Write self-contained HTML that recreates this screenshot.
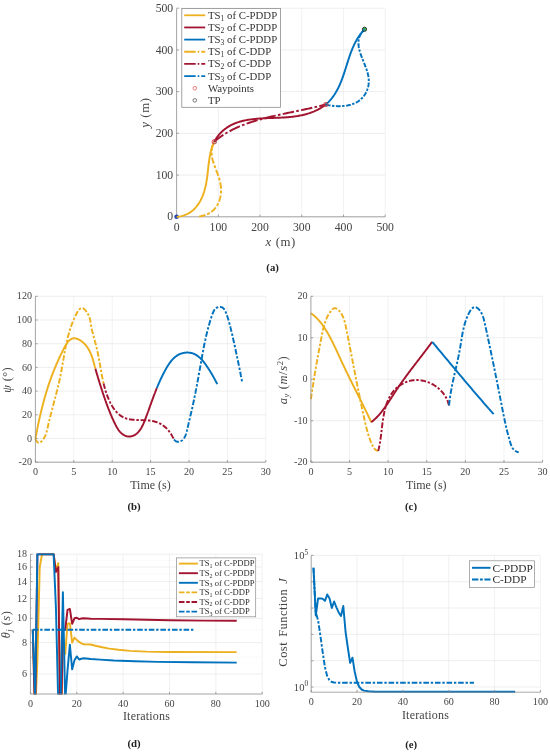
<!DOCTYPE html>
<html><head><meta charset="utf-8"><title>Figure</title>
<style>html,body{margin:0;padding:0;background:#fff}svg{display:block}text{font-family:"Liberation Serif",serif}</style>
</head><body>
<svg width="550" height="752" viewBox="0 0 550 752">
<rect width="550" height="752" fill="#fff"/>
<line x1="176.60" y1="8.50" x2="176.60" y2="216.80" stroke="#e7e7e7" stroke-width="0.6"/>
<line x1="218.32" y1="8.50" x2="218.32" y2="216.80" stroke="#e7e7e7" stroke-width="0.6"/>
<line x1="260.04" y1="8.50" x2="260.04" y2="216.80" stroke="#e7e7e7" stroke-width="0.6"/>
<line x1="301.76" y1="8.50" x2="301.76" y2="216.80" stroke="#e7e7e7" stroke-width="0.6"/>
<line x1="343.48" y1="8.50" x2="343.48" y2="216.80" stroke="#e7e7e7" stroke-width="0.6"/>
<line x1="385.20" y1="8.50" x2="385.20" y2="216.80" stroke="#e7e7e7" stroke-width="0.6"/>
<line x1="176.60" y1="216.80" x2="385.20" y2="216.80" stroke="#e7e7e7" stroke-width="0.7"/>
<line x1="176.60" y1="175.08" x2="385.20" y2="175.08" stroke="#e7e7e7" stroke-width="0.7"/>
<line x1="176.60" y1="133.36" x2="385.20" y2="133.36" stroke="#e7e7e7" stroke-width="0.7"/>
<line x1="176.60" y1="91.64" x2="385.20" y2="91.64" stroke="#e7e7e7" stroke-width="0.7"/>
<line x1="176.60" y1="49.92" x2="385.20" y2="49.92" stroke="#e7e7e7" stroke-width="0.7"/>
<line x1="176.60" y1="8.20" x2="385.20" y2="8.20" stroke="#e7e7e7" stroke-width="0.7"/>
<path d="M176.60 8.50 V216.80 H385.20" fill="none" stroke="#8c8c8c" stroke-width="0.75"/>
<line x1="176.60" y1="216.80" x2="176.60" y2="214.60" stroke="#8c8c8c" stroke-width="0.8"/>
<text x="176.60" y="230.80" font-size="11.7" text-anchor="middle" fill="#444" >0</text>
<line x1="218.32" y1="216.80" x2="218.32" y2="214.60" stroke="#8c8c8c" stroke-width="0.8"/>
<text x="218.32" y="230.80" font-size="11.7" text-anchor="middle" fill="#444" >100</text>
<line x1="260.04" y1="216.80" x2="260.04" y2="214.60" stroke="#8c8c8c" stroke-width="0.8"/>
<text x="260.04" y="230.80" font-size="11.7" text-anchor="middle" fill="#444" >200</text>
<line x1="301.76" y1="216.80" x2="301.76" y2="214.60" stroke="#8c8c8c" stroke-width="0.8"/>
<text x="301.76" y="230.80" font-size="11.7" text-anchor="middle" fill="#444" >300</text>
<line x1="343.48" y1="216.80" x2="343.48" y2="214.60" stroke="#8c8c8c" stroke-width="0.8"/>
<text x="343.48" y="230.80" font-size="11.7" text-anchor="middle" fill="#444" >400</text>
<line x1="385.20" y1="216.80" x2="385.20" y2="214.60" stroke="#8c8c8c" stroke-width="0.8"/>
<text x="385.20" y="230.80" font-size="11.7" text-anchor="middle" fill="#444" >500</text>
<line x1="176.60" y1="216.80" x2="178.80" y2="216.80" stroke="#8c8c8c" stroke-width="0.8"/>
<text x="173.20" y="220.43" font-size="11.7" text-anchor="end" fill="#444" >0</text>
<line x1="176.60" y1="175.08" x2="178.80" y2="175.08" stroke="#8c8c8c" stroke-width="0.8"/>
<text x="173.20" y="178.71" font-size="11.7" text-anchor="end" fill="#444" >100</text>
<line x1="176.60" y1="133.36" x2="178.80" y2="133.36" stroke="#8c8c8c" stroke-width="0.8"/>
<text x="173.20" y="136.99" font-size="11.7" text-anchor="end" fill="#444" >200</text>
<line x1="176.60" y1="91.64" x2="178.80" y2="91.64" stroke="#8c8c8c" stroke-width="0.8"/>
<text x="173.20" y="95.27" font-size="11.7" text-anchor="end" fill="#444" >300</text>
<line x1="176.60" y1="49.92" x2="178.80" y2="49.92" stroke="#8c8c8c" stroke-width="0.8"/>
<text x="173.20" y="53.55" font-size="11.7" text-anchor="end" fill="#444" >400</text>
<line x1="176.60" y1="8.20" x2="178.80" y2="8.20" stroke="#8c8c8c" stroke-width="0.8"/>
<text x="173.20" y="11.83" font-size="11.7" text-anchor="end" fill="#444" >500</text>
<circle cx="176.60" cy="216.80" r="2.3" fill="#2446b0"/>
<path d="M176.73 216.91 L177.89 216.77 L179.02 216.59 L180.13 216.38 L181.21 216.14 L182.26 215.87 L183.28 215.56 L184.27 215.23 L185.24 214.86 L186.18 214.47 L187.09 214.04 L187.98 213.59 L188.85 213.11 L189.69 212.61 L190.50 212.07 L191.29 211.52 L192.06 210.93 L192.80 210.33 L193.52 209.70 L194.21 209.05 L194.89 208.37 L195.54 207.67 L196.17 206.96 L196.78 206.22 L197.37 205.46 L197.94 204.69 L198.48 203.90 L199.01 203.09 L199.52 202.26 L200.01 201.42 L200.48 200.56 L200.93 199.68 L201.37 198.80 L201.79 197.89 L202.19 196.98 L202.57 196.06 L202.94 195.12 L203.29 194.17 L203.62 193.21 L203.94 192.24 L204.25 191.27 L204.54 190.28 L204.81 189.29 L205.08 188.29 L205.33 187.29 L205.56 186.28 L205.79 185.26 L206.00 184.25 L206.20 183.22 L206.38 182.20 L206.56 181.17 L206.73 180.14 L206.88 179.11 L207.03 178.08 L207.18 177.04 L207.31 176.01 L207.44 174.97 L207.57 173.94 L207.69 172.90 L207.80 171.87 L207.92 170.83 L208.03 169.80 L208.14 168.77 L208.26 167.73 L208.37 166.70 L208.49 165.68 L208.60 164.65 L208.73 163.63 L208.85 162.61 L208.98 161.59 L209.12 160.58 L209.26 159.57 L209.42 158.56 L209.58 157.56 L209.75 156.56 L209.93 155.57 L210.12 154.59 L210.32 153.60 L210.54 152.63 L210.77 151.66 L211.01 150.70 L211.27 149.74 L211.55 148.79 L211.84 147.85 L212.15 146.91 L212.48 145.99 L212.83 145.07 L213.20 144.16 L213.59 143.26 L214.00 142.36" fill="none" stroke="#EDB120" stroke-width="1.95" stroke-linejoin="round" />
<path d="M214.18 141.82 L214.73 140.83 L215.31 139.86 L215.89 138.93 L216.50 138.02 L217.12 137.14 L217.75 136.28 L218.40 135.45 L219.06 134.65 L219.74 133.87 L220.44 133.12 L221.14 132.39 L221.86 131.68 L222.59 131.00 L223.34 130.35 L224.10 129.71 L224.87 129.10 L225.65 128.51 L226.45 127.94 L227.25 127.40 L228.07 126.87 L228.89 126.37 L229.73 125.88 L230.58 125.42 L231.43 124.97 L232.30 124.55 L233.18 124.14 L234.06 123.75 L234.95 123.38 L235.85 123.03 L236.76 122.69 L237.67 122.37 L238.59 122.07 L239.52 121.78 L240.46 121.51 L241.40 121.25 L242.35 121.00 L243.31 120.77 L244.27 120.56 L245.24 120.35 L246.21 120.16 L247.19 119.98 L248.17 119.81 L249.16 119.65 L250.15 119.51 L251.15 119.37 L252.15 119.24 L253.15 119.12 L254.16 119.01 L255.17 118.91 L256.19 118.82 L257.21 118.73 L258.23 118.65 L259.25 118.57 L260.28 118.51 L261.31 118.44 L262.34 118.38 L263.37 118.33 L264.41 118.28 L265.44 118.24 L266.48 118.19 L267.51 118.15 L268.55 118.11 L269.59 118.08 L270.62 118.04 L271.66 118.01 L272.70 117.97 L273.74 117.94 L274.77 117.90 L275.81 117.86 L276.84 117.82 L277.87 117.78 L278.90 117.74 L279.93 117.69 L280.96 117.64 L281.98 117.59 L283.01 117.53 L284.03 117.47 L285.05 117.41 L286.07 117.34 L287.08 117.26 L288.10 117.18 L289.11 117.09 L290.12 116.99 L291.12 116.89 L292.13 116.78 L293.13 116.66 L294.12 116.53 L295.12 116.40 L296.11 116.25 L297.10 116.10 L298.09 115.94 L299.07 115.76 L300.05 115.58 L301.03 115.38 L302.00 115.18 L302.97 114.96 L303.94 114.73 L304.90 114.48 L305.86 114.23 L306.81 113.96 L307.76 113.67 L308.71 113.38 L309.65 113.07 L310.59 112.74 L311.52 112.40 L312.45 112.04 L313.38 111.67 L314.30 111.28 L315.21 110.87 L316.13 110.45 L317.03 110.01 L317.93 109.55 L318.83 109.07 L319.72 108.57 L320.61 108.06 L321.49 107.52 L322.37 106.97 L323.24 106.39 L324.10 105.80 L324.96 105.18 L325.82 104.54" fill="none" stroke="#A2142F" stroke-width="1.95" stroke-linejoin="round" />
<path d="M325.82 104.55 L326.61 103.84 L327.38 103.11 L328.13 102.38 L328.86 101.63 L329.57 100.88 L330.26 100.11 L330.93 99.33 L331.58 98.53 L332.21 97.73 L332.82 96.92 L333.42 96.10 L333.99 95.27 L334.56 94.43 L335.10 93.58 L335.63 92.72 L336.15 91.85 L336.65 90.97 L337.13 90.09 L337.61 89.20 L338.07 88.30 L338.52 87.40 L338.95 86.48 L339.38 85.56 L339.79 84.64 L340.19 83.71 L340.59 82.77 L340.97 81.83 L341.35 80.89 L341.72 79.94 L342.08 78.98 L342.43 78.03 L342.78 77.06 L343.12 76.10 L343.45 75.13 L343.78 74.16 L344.11 73.18 L344.43 72.21 L344.75 71.23 L345.06 70.25 L345.38 69.27 L345.69 68.29 L346.00 67.30 L346.30 66.32 L346.61 65.34 L346.92 64.36 L347.23 63.37 L347.54 62.39 L347.85 61.41 L348.17 60.43 L348.48 59.46 L348.80 58.48 L349.13 57.51 L349.46 56.54 L349.79 55.57 L350.13 54.61 L350.47 53.65 L350.82 52.69 L351.18 51.74 L351.55 50.79 L351.92 49.84 L352.30 48.90 L352.70 47.97 L353.10 47.04 L353.51 46.12 L353.93 45.21 L354.36 44.30 L354.81 43.39 L355.26 42.50 L355.73 41.61 L356.21 40.73 L356.71 39.86 L357.22 38.99 L357.75 38.14 L358.29 37.29 L358.84 36.45 L359.42 35.63 L360.01 34.81 L360.61 34.00 L361.24 33.20 L361.88 32.42 L362.55 31.64 L363.23 30.88 L363.93 30.12 L364.65 29.38" fill="none" stroke="#0072BD" stroke-width="1.95" stroke-linejoin="round" />
<path d="M199.09 216.36 L200.27 216.23 L201.42 216.05 L202.53 215.83 L203.61 215.56 L204.65 215.26 L205.66 214.91 L206.64 214.53 L207.59 214.10 L208.50 213.65 L209.38 213.15 L210.22 212.63 L211.03 212.07 L211.82 211.47 L212.56 210.85 L213.28 210.20 L213.96 209.52 L214.61 208.81 L215.23 208.08 L215.82 207.32 L216.37 206.53 L216.89 205.73 L217.39 204.90 L217.85 204.05 L218.27 203.18 L218.67 202.30 L219.04 201.40 L219.37 200.48 L219.68 199.54 L219.95 198.60 L220.19 197.64 L220.40 196.66 L220.58 195.68 L220.73 194.69 L220.86 193.69 L220.95 192.69 L221.01 191.67 L221.04 190.66 L221.04 189.64 L221.01 188.61 L220.95 187.59 L220.86 186.57 L220.74 185.54 L220.60 184.52 L220.42 183.50 L220.22 182.49 L219.99 181.48 L219.73 180.47 L219.46 179.47 L219.16 178.47 L218.85 177.47 L218.52 176.48 L218.18 175.49 L217.82 174.50 L217.46 173.51 L217.09 172.53 L216.72 171.55 L216.34 170.57 L215.97 169.59 L215.59 168.61 L215.22 167.64 L214.85 166.67 L214.50 165.69 L214.15 164.72 L213.82 163.75 L213.50 162.79 L213.20 161.82 L212.91 160.85 L212.65 159.88 L212.41 158.92 L212.20 157.95 L212.02 156.98 L211.86 156.02 L211.73 155.05 L211.64 154.08 L211.59 153.11 L211.58 152.14 L211.60 151.17 L211.67 150.20 L211.78 149.23 L211.94 148.25 L212.15 147.27 L212.41 146.30 L212.72 145.32 L213.09 144.33 L213.51 143.35 L214.00 142.36" fill="none" stroke="#EDB120" stroke-width="1.95" stroke-dasharray="6.5 1.8 3 1.8" stroke-linejoin="round" />
<path d="M214.18 141.82 L214.96 141.15 L215.74 140.50 L216.53 139.85 L217.32 139.22 L218.12 138.60 L218.93 137.99 L219.74 137.40 L220.56 136.81 L221.38 136.23 L222.21 135.67 L223.04 135.11 L223.88 134.57 L224.72 134.03 L225.57 133.51 L226.43 132.99 L227.29 132.48 L228.15 131.99 L229.02 131.50 L229.90 131.02 L230.77 130.55 L231.66 130.09 L232.54 129.64 L233.43 129.19 L234.33 128.76 L235.23 128.33 L236.13 127.91 L237.04 127.50 L237.95 127.10 L238.87 126.70 L239.79 126.31 L240.71 125.93 L241.63 125.55 L242.56 125.19 L243.50 124.82 L244.43 124.47 L245.37 124.12 L246.31 123.78 L247.26 123.44 L248.20 123.11 L249.15 122.79 L250.11 122.47 L251.06 122.16 L252.02 121.85 L252.98 121.54 L253.94 121.25 L254.91 120.95 L255.88 120.66 L256.84 120.38 L257.82 120.10 L258.79 119.83 L259.76 119.55 L260.74 119.29 L261.72 119.02 L262.69 118.76 L263.68 118.51 L264.66 118.25 L265.64 118.00 L266.62 117.75 L267.61 117.51 L268.59 117.27 L269.58 117.03 L270.57 116.79 L271.56 116.55 L272.54 116.32 L273.53 116.09 L274.52 115.86 L275.51 115.63 L276.51 115.41 L277.50 115.19 L278.49 114.96 L279.48 114.74 L280.47 114.53 L281.47 114.31 L282.46 114.09 L283.45 113.88 L284.45 113.66 L285.44 113.45 L286.44 113.24 L287.43 113.03 L288.42 112.82 L289.42 112.61 L290.41 112.40 L291.41 112.19 L292.40 111.98 L293.39 111.78 L294.39 111.57 L295.38 111.36 L296.37 111.16 L297.36 110.95 L298.36 110.74 L299.35 110.53 L300.34 110.33 L301.33 110.12 L302.32 109.91 L303.31 109.70 L304.30 109.49 L305.29 109.28 L306.28 109.07 L307.26 108.86 L308.25 108.65 L309.23 108.43 L310.22 108.22 L311.20 108.00 L312.18 107.78 L313.17 107.56 L314.15 107.34 L315.13 107.12 L316.10 106.90 L317.08 106.67 L318.06 106.44 L319.03 106.21 L320.01 105.98 L320.98 105.75 L321.95 105.51 L322.92 105.27 L323.89 105.03 L324.85 104.79 L325.82 104.54" fill="none" stroke="#A2142F" stroke-width="1.95" stroke-dasharray="11.5 2.3 2.6 2.3" stroke-linejoin="round" />
<path d="M325.82 104.54 L326.71 104.77 L327.63 104.98 L328.58 105.18 L329.54 105.36 L330.51 105.52 L331.51 105.67 L332.52 105.80 L333.54 105.91 L334.58 106.01 L335.62 106.08 L336.68 106.14 L337.74 106.17 L338.80 106.18 L339.87 106.17 L340.94 106.14 L342.01 106.08 L343.08 106.00 L344.15 105.90 L345.21 105.77 L346.26 105.62 L347.31 105.44 L348.35 105.23 L349.37 104.99 L350.39 104.73 L351.39 104.44 L352.37 104.12 L353.33 103.77 L354.28 103.38 L355.20 102.97 L356.11 102.52 L356.98 102.05 L357.84 101.54 L358.66 100.99 L359.46 100.41 L360.22 99.80 L360.96 99.16 L361.67 98.49 L362.34 97.79 L362.99 97.06 L363.60 96.31 L364.18 95.53 L364.73 94.73 L365.25 93.91 L365.73 93.06 L366.18 92.20 L366.60 91.32 L366.98 90.43 L367.33 89.52 L367.64 88.59 L367.91 87.66 L368.15 86.71 L368.36 85.75 L368.52 84.79 L368.65 83.82 L368.74 82.84 L368.79 81.86 L368.80 80.87 L368.77 79.89 L368.71 78.90 L368.61 77.91 L368.47 76.93 L368.30 75.94 L368.10 74.95 L367.87 73.96 L367.62 72.97 L367.34 71.98 L367.04 70.99 L366.72 70.00 L366.39 69.01 L366.04 68.02 L365.67 67.04 L365.29 66.05 L364.91 65.06 L364.52 64.07 L364.12 63.08 L363.72 62.09 L363.32 61.10 L362.92 60.12 L362.53 59.13 L362.14 58.14 L361.76 57.16 L361.38 56.17 L361.03 55.19 L360.68 54.21 L360.35 53.22 L360.04 52.24 L359.75 51.26 L359.49 50.28 L359.25 49.31 L359.03 48.33 L358.85 47.35 L358.70 46.38 L358.58 45.41 L358.49 44.45 L358.45 43.49 L358.44 42.53 L358.48 41.58 L358.56 40.64 L358.69 39.71 L358.86 38.78 L359.09 37.86 L359.37 36.96 L359.71 36.06 L360.10 35.18 L360.56 34.31 L361.07 33.45 L361.65 32.61 L362.30 31.78 L363.01 30.96 L363.80 30.16 L364.65 29.38" fill="none" stroke="#0072BD" stroke-width="1.95" stroke-dasharray="4.8 1.5 2.4 1.5" stroke-linejoin="round" />
<circle cx="214.20" cy="141.80" r="2.1" fill="none" stroke="#e8202a" stroke-width="0.85"/>
<circle cx="215.00" cy="142.10" r="1.7" fill="none" stroke="#777" stroke-width="0.5"/>
<circle cx="325.80" cy="104.50" r="2.1" fill="none" stroke="#e8202a" stroke-width="0.85"/>
<circle cx="326.60" cy="104.80" r="1.7" fill="none" stroke="#777" stroke-width="0.5"/>
<circle cx="364.50" cy="29.30" r="2.1" fill="#3cc044" stroke="#222" stroke-width="0.9"/>
<circle cx="364.10" cy="29.70" r="1.0" fill="#1f78c8"/>
<rect x="181.80" y="8.50" width="98.60" height="98.80" fill="#fff" stroke="#8c8c8c" stroke-width="0.8"/>
<path d="M184.2 15.30 H205.2" fill="none" stroke="#EDB120" stroke-width="1.8" stroke-linejoin="round" />
<text x="208.00" y="18.80" font-size="10.8" text-anchor="start" fill="#333" >TS<tspan font-size="7.5" dy="2">1</tspan><tspan dy="-2"> of C-PDDP</tspan></text>
<path d="M184.2 27.45 H205.2" fill="none" stroke="#A2142F" stroke-width="1.8" stroke-linejoin="round" />
<text x="208.00" y="30.95" font-size="10.8" text-anchor="start" fill="#333" >TS<tspan font-size="7.5" dy="2">2</tspan><tspan dy="-2"> of C-PDDP</tspan></text>
<path d="M184.2 39.60 H205.2" fill="none" stroke="#0072BD" stroke-width="1.8" stroke-linejoin="round" />
<text x="208.00" y="43.10" font-size="10.8" text-anchor="start" fill="#333" >TS<tspan font-size="7.5" dy="2">3</tspan><tspan dy="-2"> of C-PDDP</tspan></text>
<path d="M184.2 51.75 H205.2" fill="none" stroke="#EDB120" stroke-width="1.8" stroke-dasharray="11.5 2 1.6 2" stroke-linejoin="round" />
<text x="208.00" y="55.25" font-size="10.8" text-anchor="start" fill="#333" >TS<tspan font-size="7.5" dy="2">1</tspan><tspan dy="-2"> of C-DDP</tspan></text>
<path d="M184.2 63.90 H205.2" fill="none" stroke="#A2142F" stroke-width="1.8" stroke-dasharray="11.5 2 1.6 2" stroke-linejoin="round" />
<text x="208.00" y="67.40" font-size="10.8" text-anchor="start" fill="#333" >TS<tspan font-size="7.5" dy="2">2</tspan><tspan dy="-2"> of C-DDP</tspan></text>
<path d="M184.2 76.05 H205.2" fill="none" stroke="#0072BD" stroke-width="1.8" stroke-dasharray="11.5 2 1.6 2" stroke-linejoin="round" />
<text x="208.00" y="79.55" font-size="10.8" text-anchor="start" fill="#333" >TS<tspan font-size="7.5" dy="2">3</tspan><tspan dy="-2"> of C-DDP</tspan></text>
<circle cx="194.8" cy="88.20" r="1.8" fill="none" stroke="#e8474f" stroke-width="0.7"/>
<text x="208.00" y="91.70" font-size="10.8" text-anchor="start" fill="#333" >Waypoints</text>
<circle cx="194.8" cy="100.35" r="1.8" fill="none" stroke="#444" stroke-width="0.7"/>
<text x="208.00" y="103.85" font-size="10.8" text-anchor="start" fill="#333" >TP</text>
<text x="280.80" y="245.50" font-size="12.8" text-anchor="middle" fill="#444" letter-spacing="0.6"><tspan font-style="italic">x</tspan> (m)</text>
<text transform="translate(149.20 112.60) rotate(-90)" font-size="12.8" text-anchor="middle" fill="#444" letter-spacing="0.6"><tspan font-style="italic">y</tspan> (m)</text>
<text x="272.60" y="271.40" font-size="10.8" text-anchor="middle" fill="#222" font-weight="bold">(a)</text>
<line x1="35.40" y1="296.30" x2="35.40" y2="462.20" stroke="#e7e7e7" stroke-width="0.6"/>
<line x1="73.80" y1="296.30" x2="73.80" y2="462.20" stroke="#e7e7e7" stroke-width="0.6"/>
<line x1="112.20" y1="296.30" x2="112.20" y2="462.20" stroke="#e7e7e7" stroke-width="0.6"/>
<line x1="150.60" y1="296.30" x2="150.60" y2="462.20" stroke="#e7e7e7" stroke-width="0.6"/>
<line x1="189.00" y1="296.30" x2="189.00" y2="462.20" stroke="#e7e7e7" stroke-width="0.6"/>
<line x1="227.40" y1="296.30" x2="227.40" y2="462.20" stroke="#e7e7e7" stroke-width="0.6"/>
<line x1="265.80" y1="296.30" x2="265.80" y2="462.20" stroke="#e7e7e7" stroke-width="0.6"/>
<line x1="35.40" y1="462.20" x2="265.80" y2="462.20" stroke="#e7e7e7" stroke-width="0.7"/>
<line x1="35.40" y1="438.50" x2="265.80" y2="438.50" stroke="#e7e7e7" stroke-width="0.7"/>
<line x1="35.40" y1="414.80" x2="265.80" y2="414.80" stroke="#e7e7e7" stroke-width="0.7"/>
<line x1="35.40" y1="391.10" x2="265.80" y2="391.10" stroke="#e7e7e7" stroke-width="0.7"/>
<line x1="35.40" y1="367.40" x2="265.80" y2="367.40" stroke="#e7e7e7" stroke-width="0.7"/>
<line x1="35.40" y1="343.70" x2="265.80" y2="343.70" stroke="#e7e7e7" stroke-width="0.7"/>
<line x1="35.40" y1="320.00" x2="265.80" y2="320.00" stroke="#e7e7e7" stroke-width="0.7"/>
<line x1="35.40" y1="296.30" x2="265.80" y2="296.30" stroke="#e7e7e7" stroke-width="0.7"/>
<path d="M35.45 438.55 L35.54 438.08 L35.62 437.60 L35.71 437.13 L35.79 436.66 L35.88 436.18 L35.96 435.71 L36.05 435.23 L36.14 434.76 L36.23 434.28 L36.32 433.80 L36.41 433.32 L36.50 432.84 L36.59 432.36 L36.68 431.87 L36.77 431.39 L36.87 430.91 L36.96 430.42 L37.06 429.94 L37.15 429.45 L37.25 428.96 L37.35 428.47 L37.45 427.99 L37.54 427.50 L37.64 427.01 L37.74 426.52 L37.85 426.03 L37.95 425.53 L38.05 425.04 L38.15 424.55 L38.26 424.06 L38.36 423.56 L38.46 423.07 L38.57 422.58 L38.68 422.08 L38.78 421.59 L38.89 421.09 L39.00 420.60 L39.11 420.10 L39.22 419.60 L39.33 419.11 L39.44 418.61 L39.55 418.11 L39.66 417.62 L39.78 417.12 L39.89 416.62 L40.01 416.12 L40.12 415.63 L40.24 415.13 L40.35 414.63 L40.47 414.13 L40.59 413.63 L40.71 413.14 L40.82 412.64 L40.94 412.14 L41.06 411.64 L41.18 411.15 L41.31 410.65 L41.43 410.15 L41.55 409.65 L41.67 409.16 L41.80 408.66 L41.92 408.16 L42.05 407.66 L42.17 407.17 L42.30 406.67 L42.43 406.18 L42.55 405.68 L42.68 405.19 L42.81 404.69 L42.94 404.20 L43.07 403.70 L43.20 403.21 L43.33 402.72 L43.46 402.22 L43.60 401.73 L43.73 401.24 L43.86 400.75 L44.00 400.26 L44.13 399.77 L44.27 399.28 L44.40 398.79 L44.54 398.30 L44.68 397.82 L44.82 397.33 L44.95 396.85 L45.09 396.36 L45.23 395.88 L45.37 395.39 L45.51 394.91 L45.65 394.43 L45.80 393.95 L45.94 393.47 L46.08 392.99 L46.22 392.51 L46.37 392.03 L46.51 391.55 L46.66 391.08 L46.80 390.60 L46.95 390.13 L47.09 389.66 L47.24 389.19 L47.39 388.72 L47.54 388.25 L47.69 387.78 L47.84 387.31 L47.99 386.85 L48.14 386.38 L48.29 385.92 L48.44 385.45 L48.59 384.99 L48.75 384.53 L48.90 384.07 L49.05 383.61 L49.21 383.15 L49.37 382.69 L49.52 382.23 L49.68 381.77 L49.84 381.31 L50.00 380.85 L50.16 380.40 L50.32 379.94 L50.48 379.48 L50.64 379.03 L50.81 378.57 L50.97 378.12 L51.14 377.67 L51.30 377.21 L51.47 376.76 L51.64 376.30 L51.81 375.85 L51.98 375.40 L52.15 374.94 L52.32 374.49 L52.49 374.04 L52.67 373.58 L52.84 373.13 L53.02 372.68 L53.20 372.22 L53.37 371.77 L53.55 371.31 L53.73 370.86 L53.92 370.41 L54.10 369.95 L54.28 369.50 L54.47 369.04 L54.65 368.59 L54.84 368.13 L55.03 367.67 L55.22 367.22 L55.41 366.76 L55.61 366.30 L55.80 365.84 L55.99 365.38 L56.19 364.92 L56.39 364.46 L56.59 364.00 L56.79 363.54 L56.99 363.08 L57.20 362.61 L57.40 362.15 L57.61 361.69 L57.81 361.22 L58.02 360.75 L58.23 360.29 L58.45 359.82 L58.66 359.35 L58.88 358.88 L59.09 358.40 L59.31 357.93 L59.53 357.46 L59.75 356.98 L59.98 356.51 L60.20 356.03 L60.43 355.55 L60.65 355.07 L60.88 354.59 L61.12 354.11 L61.35 353.62 L61.58 353.14 L61.82 352.65 L62.06 352.16 L62.30 351.67 L62.54 351.18 L62.78 350.68 L63.03 350.19 L63.27 349.69 L63.52 349.20 L63.78 348.70 L64.03 348.21 L64.29 347.72 L64.55 347.23 L64.81 346.75 L65.07 346.27 L65.34 345.80 L65.62 345.34 L65.89 344.88 L66.17 344.43 L66.45 343.99 L66.74 343.56 L67.03 343.14 L67.33 342.73 L67.63 342.33 L67.94 341.95 L68.25 341.58 L68.56 341.23 L68.89 340.89 L69.21 340.57 L69.54 340.27 L69.88 339.98 L70.23 339.71 L70.58 339.47 L70.93 339.24 L71.30 339.04 L71.66 338.85 L72.04 338.69 L72.42 338.56 L72.81 338.45 L73.21 338.36 L73.62 338.30 L74.03 338.27 L74.45 338.27 L74.88 338.29 L75.31 338.35 L75.75 338.42 L76.19 338.53 L76.64 338.65 L77.09 338.80 L77.55 338.97 L78.00 339.16 L78.45 339.37 L78.91 339.59 L79.36 339.83 L79.80 340.09 L80.25 340.36 L80.69 340.64 L81.12 340.94 L81.55 341.24 L81.97 341.56 L82.38 341.88 L82.78 342.21 L83.17 342.54 L83.55 342.89 L83.92 343.24 L84.29 343.59 L84.64 343.95 L84.99 344.32 L85.32 344.69 L85.65 345.07 L85.97 345.45 L86.29 345.84 L86.59 346.23 L86.89 346.63 L87.18 347.04 L87.46 347.45 L87.74 347.86 L88.00 348.28 L88.27 348.70 L88.52 349.13 L88.77 349.56 L89.01 349.99 L89.25 350.43 L89.48 350.87 L89.70 351.32 L89.92 351.77 L90.13 352.22 L90.34 352.68 L90.54 353.14 L90.74 353.60 L90.94 354.07 L91.13 354.54 L91.31 355.01 L91.49 355.48 L91.67 355.96 L91.84 356.44 L92.01 356.92 L92.18 357.40 L92.34 357.88 L92.50 358.37 L92.66 358.86 L92.81 359.35 L92.96 359.84 L93.11 360.33 L93.26 360.82 L93.40 361.32 L93.55 361.81 L93.69 362.31 L93.83 362.80 L93.96 363.30 L94.10 363.80 L94.24 364.29 L94.37 364.79 L94.51 365.29 L94.64 365.79 L94.78 366.28 L94.91 366.78 L95.05 367.27 L95.18 367.77 L95.32 368.26 L95.45 368.76" fill="none" stroke="#EDB120" stroke-width="1.95" stroke-linejoin="round" />
<path d="M95.45 368.76 L95.59 369.25 L95.72 369.74 L95.86 370.23 L96.00 370.72 L96.14 371.21 L96.27 371.70 L96.41 372.19 L96.55 372.67 L96.69 373.16 L96.83 373.65 L96.97 374.13 L97.11 374.62 L97.25 375.10 L97.40 375.58 L97.54 376.06 L97.68 376.54 L97.83 377.03 L97.97 377.51 L98.11 377.99 L98.26 378.46 L98.40 378.94 L98.55 379.42 L98.69 379.90 L98.84 380.37 L98.98 380.85 L99.13 381.33 L99.28 381.80 L99.43 382.27 L99.57 382.75 L99.72 383.22 L99.87 383.70 L100.02 384.17 L100.17 384.64 L100.32 385.11 L100.46 385.58 L100.61 386.05 L100.76 386.52 L100.91 386.99 L101.07 387.46 L101.22 387.93 L101.37 388.40 L101.52 388.87 L101.67 389.34 L101.82 389.81 L101.97 390.28 L102.13 390.74 L102.28 391.21 L102.43 391.68 L102.59 392.14 L102.74 392.61 L102.89 393.08 L103.05 393.54 L103.20 394.01 L103.36 394.48 L103.51 394.94 L103.67 395.41 L103.82 395.87 L103.98 396.34 L104.14 396.80 L104.30 397.27 L104.46 397.73 L104.62 398.20 L104.78 398.66 L104.94 399.12 L105.10 399.59 L105.26 400.05 L105.42 400.52 L105.59 400.98 L105.75 401.45 L105.92 401.91 L106.08 402.37 L106.25 402.84 L106.42 403.30 L106.59 403.77 L106.76 404.23 L106.93 404.70 L107.10 405.16 L107.27 405.62 L107.45 406.09 L107.62 406.55 L107.80 407.02 L107.98 407.48 L108.15 407.95 L108.33 408.41 L108.51 408.88 L108.70 409.34 L108.88 409.81 L109.06 410.27 L109.25 410.74 L109.44 411.21 L109.62 411.67 L109.81 412.14 L110.01 412.61 L110.20 413.07 L110.39 413.54 L110.59 414.01 L110.78 414.48 L110.98 414.94 L111.18 415.41 L111.38 415.88 L111.59 416.35 L111.79 416.82 L112.00 417.29 L112.20 417.76 L112.41 418.23 L112.63 418.70 L112.84 419.17 L113.05 419.64 L113.27 420.11 L113.49 420.59 L113.71 421.06 L113.93 421.53 L114.15 422.01 L114.38 422.48 L114.61 422.96 L114.84 423.43 L115.07 423.91 L115.30 424.38 L115.54 424.85 L115.78 425.32 L116.03 425.79 L116.27 426.26 L116.53 426.72 L116.78 427.18 L117.04 427.63 L117.31 428.08 L117.58 428.52 L117.86 428.96 L118.14 429.39 L118.43 429.82 L118.72 430.23 L119.03 430.64 L119.33 431.04 L119.65 431.43 L119.97 431.81 L120.31 432.18 L120.65 432.54 L120.99 432.89 L121.35 433.22 L121.72 433.54 L122.09 433.85 L122.48 434.15 L122.87 434.43 L123.28 434.70 L123.69 434.96 L124.12 435.19 L124.55 435.41 L124.99 435.62 L125.44 435.80 L125.90 435.97 L126.36 436.12 L126.82 436.25 L127.29 436.35 L127.77 436.44 L128.24 436.50 L128.71 436.55 L129.19 436.56 L129.66 436.56 L130.13 436.52 L130.60 436.47 L131.07 436.39 L131.53 436.28 L131.99 436.16 L132.44 436.02 L132.88 435.86 L133.31 435.68 L133.74 435.49 L134.16 435.28 L134.56 435.06 L134.96 434.83 L135.35 434.58 L135.74 434.32 L136.11 434.05 L136.47 433.76 L136.83 433.46 L137.18 433.16 L137.52 432.84 L137.86 432.51 L138.18 432.17 L138.50 431.82 L138.82 431.45 L139.12 431.08 L139.42 430.71 L139.71 430.32 L140.00 429.92 L140.28 429.52 L140.56 429.10 L140.83 428.68 L141.09 428.25 L141.35 427.82 L141.60 427.38 L141.85 426.93 L142.09 426.48 L142.33 426.02 L142.57 425.56 L142.80 425.09 L143.02 424.62 L143.25 424.14 L143.46 423.66 L143.68 423.17 L143.89 422.68 L144.10 422.19 L144.30 421.70 L144.51 421.21 L144.71 420.71 L144.90 420.21 L145.10 419.71 L145.29 419.21 L145.48 418.71 L145.67 418.21 L145.86 417.70 L146.04 417.20 L146.23 416.70 L146.41 416.20 L146.59 415.71 L146.77 415.21 L146.95 414.71 L147.13 414.22 L147.31 413.73 L147.49 413.24 L147.67 412.75 L147.85 412.26 L148.02 411.77 L148.20 411.29 L148.37 410.80 L148.55 410.32 L148.72 409.83 L148.89 409.35 L149.07 408.87 L149.24 408.39 L149.41 407.91 L149.58 407.44 L149.75 406.96 L149.92 406.49 L150.09 406.01 L150.26 405.54 L150.43 405.07 L150.60 404.59 L150.77 404.12 L150.94 403.65 L151.11 403.19 L151.28 402.72 L151.45 402.25 L151.61 401.79 L151.78 401.32 L151.95 400.86 L152.12 400.39 L152.29 399.93 L152.46 399.47 L152.63 399.00 L152.80 398.54 L152.97 398.08 L153.14 397.62 L153.31 397.17 L153.48 396.71 L153.65 396.25 L153.82 395.79 L153.99 395.34 L154.17 394.88 L154.34 394.42 L154.51 393.97 L154.69 393.52 L154.86 393.06 L155.04 392.61 L155.21 392.15 L155.39 391.70 L155.57 391.25 L155.74 390.80 L155.92 390.35 L156.10 389.89 L156.28 389.44 L156.46 388.99 L156.65 388.54 L156.83 388.09" fill="none" stroke="#A2142F" stroke-width="1.95" stroke-linejoin="round" />
<path d="M156.83 388.09 L157.01 387.64 L157.20 387.19 L157.38 386.74 L157.57 386.29 L157.76 385.84 L157.95 385.40 L158.14 384.95 L158.33 384.50 L158.52 384.05 L158.72 383.60 L158.91 383.15 L159.11 382.70 L159.31 382.26 L159.51 381.81 L159.71 381.36 L159.91 380.91 L160.12 380.46 L160.32 380.01 L160.53 379.56 L160.74 379.11 L160.95 378.67 L161.16 378.22 L161.37 377.77 L161.59 377.32 L161.81 376.87 L162.03 376.42 L162.25 375.97 L162.47 375.52 L162.69 375.07 L162.92 374.61 L163.15 374.16 L163.38 373.71 L163.61 373.26 L163.84 372.81 L164.08 372.35 L164.32 371.90 L164.56 371.45 L164.80 370.99 L165.05 370.54 L165.29 370.08 L165.54 369.63 L165.80 369.17 L166.05 368.72 L166.31 368.27 L166.57 367.82 L166.83 367.37 L167.10 366.92 L167.37 366.47 L167.64 366.03 L167.92 365.59 L168.20 365.15 L168.48 364.71 L168.77 364.28 L169.06 363.85 L169.35 363.43 L169.65 363.01 L169.95 362.59 L170.26 362.18 L170.57 361.78 L170.88 361.38 L171.20 360.98 L171.53 360.59 L171.86 360.21 L172.19 359.83 L172.53 359.46 L172.87 359.09 L173.22 358.74 L173.57 358.39 L173.93 358.05 L174.30 357.71 L174.67 357.39 L175.04 357.07 L175.42 356.76 L175.81 356.46 L176.20 356.17 L176.60 355.89 L177.01 355.61 L177.42 355.35 L177.83 355.10 L178.26 354.86 L178.69 354.63 L179.13 354.41 L179.57 354.20 L180.02 354.01 L180.48 353.82 L180.94 353.65 L181.41 353.49 L181.89 353.34 L182.37 353.21 L182.86 353.08 L183.35 352.97 L183.85 352.88 L184.35 352.79 L184.85 352.72 L185.36 352.66 L185.87 352.62 L186.37 352.59 L186.88 352.57 L187.39 352.57 L187.90 352.58 L188.40 352.60 L188.91 352.63 L189.41 352.69 L189.90 352.75 L190.40 352.83 L190.89 352.92 L191.37 353.03 L191.85 353.15 L192.32 353.28 L192.79 353.43 L193.25 353.60 L193.71 353.77 L194.16 353.96 L194.60 354.17 L195.04 354.38 L195.47 354.61 L195.89 354.85 L196.31 355.10 L196.73 355.36 L197.14 355.63 L197.54 355.91 L197.94 356.20 L198.34 356.51 L198.73 356.82 L199.11 357.14 L199.49 357.46 L199.86 357.80 L200.23 358.14 L200.60 358.49 L200.96 358.85 L201.31 359.22 L201.67 359.59 L202.01 359.97 L202.36 360.35 L202.70 360.74 L203.03 361.13 L203.36 361.53 L203.69 361.93 L204.01 362.34 L204.33 362.75 L204.65 363.16 L204.96 363.58 L205.27 364.00 L205.57 364.42 L205.87 364.84 L206.17 365.26 L206.47 365.69 L206.76 366.11 L207.05 366.54 L207.33 366.97 L207.62 367.39 L207.90 367.82 L208.17 368.24 L208.45 368.67 L208.72 369.09 L208.99 369.51 L209.26 369.93 L209.52 370.35 L209.78 370.77 L210.04 371.19 L210.30 371.60 L210.56 372.02 L210.81 372.44 L211.07 372.85 L211.32 373.27 L211.57 373.69 L211.81 374.11 L212.06 374.52 L212.31 374.94 L212.55 375.36 L212.79 375.79 L213.03 376.21 L213.27 376.63 L213.51 377.06 L213.75 377.48 L213.99 377.91 L214.22 378.34 L214.46 378.78 L214.69 379.21 L214.93 379.65 L215.16 380.09 L215.40 380.53 L215.63 380.97 L215.87 381.42 L216.10 381.87 L216.33 382.33 L216.57 382.79 L216.80 383.25 L217.04 383.71 L217.27 384.18" fill="none" stroke="#0072BD" stroke-width="1.95" stroke-linejoin="round" />
<path d="M35.45 438.55 L35.82 439.55 L36.20 440.39 L36.59 441.10 L36.98 441.67 L37.38 442.11 L37.78 442.43 L38.19 442.65 L38.59 442.77 L38.99 442.80 L39.39 442.74 L39.79 442.62 L40.18 442.43 L40.57 442.18 L40.95 441.89 L41.32 441.56 L41.67 441.21 L42.02 440.83 L42.35 440.45 L42.67 440.06 L42.97 439.66 L43.26 439.25 L43.54 438.84 L43.81 438.42 L44.06 438.00 L44.30 437.57 L44.53 437.14 L44.76 436.70 L44.97 436.26 L45.17 435.81 L45.36 435.36 L45.55 434.91 L45.73 434.45 L45.90 433.98 L46.06 433.52 L46.21 433.05 L46.36 432.58 L46.51 432.10 L46.65 431.62 L46.78 431.14 L46.91 430.66 L47.03 430.17 L47.15 429.69 L47.27 429.20 L47.39 428.71 L47.50 428.22 L47.61 427.73 L47.72 427.24 L47.83 426.74 L47.94 426.25 L48.05 425.76 L48.16 425.27 L48.28 424.77 L48.39 424.28 L48.50 423.79 L48.61 423.30 L48.73 422.81 L48.84 422.32 L48.96 421.83 L49.08 421.34 L49.19 420.85 L49.31 420.36 L49.43 419.87 L49.55 419.38 L49.67 418.89 L49.79 418.40 L49.91 417.91 L50.03 417.42 L50.15 416.93 L50.27 416.44 L50.40 415.95 L50.52 415.47 L50.64 414.98 L50.77 414.49 L50.89 414.00 L51.02 413.52 L51.14 413.03 L51.27 412.54 L51.39 412.06 L51.52 411.57 L51.65 411.08 L51.77 410.60 L51.90 410.11 L52.03 409.62 L52.16 409.14 L52.28 408.65 L52.41 408.17 L52.54 407.68 L52.67 407.20 L52.80 406.71 L52.93 406.22 L53.06 405.74 L53.18 405.25 L53.31 404.77 L53.44 404.28 L53.57 403.80 L53.70 403.31 L53.83 402.83 L53.96 402.34 L54.09 401.86 L54.22 401.37 L54.34 400.89 L54.47 400.41 L54.60 399.92 L54.73 399.44 L54.86 398.95 L54.99 398.47 L55.11 397.98 L55.24 397.50 L55.37 397.01 L55.49 396.53 L55.62 396.04 L55.75 395.56 L55.87 395.07 L56.00 394.59 L56.13 394.11 L56.25 393.62 L56.38 393.14 L56.50 392.65 L56.62 392.17 L56.75 391.68 L56.87 391.20 L56.99 390.71 L57.12 390.23 L57.24 389.74 L57.36 389.26 L57.48 388.77 L57.60 388.29 L57.72 387.80 L57.84 387.32 L57.95 386.83 L58.07 386.34 L58.19 385.86 L58.31 385.37 L58.42 384.89 L58.54 384.40 L58.65 383.91 L58.76 383.43 L58.87 382.94 L58.99 382.45 L59.10 381.97 L59.21 381.48 L59.32 380.99 L59.43 380.51 L59.53 380.02 L59.64 379.53 L59.74 379.04 L59.85 378.55 L59.95 378.07 L60.06 377.58 L60.16 377.09 L60.26 376.60 L60.36 376.11 L60.46 375.62 L60.56 375.13 L60.65 374.64 L60.75 374.15 L60.84 373.66 L60.94 373.17 L61.03 372.68 L61.12 372.19 L61.22 371.70 L61.31 371.21 L61.40 370.72 L61.49 370.23 L61.58 369.74 L61.67 369.25 L61.76 368.76 L61.85 368.26 L61.93 367.77 L62.02 367.28 L62.11 366.79 L62.19 366.30 L62.28 365.81 L62.37 365.31 L62.45 364.82 L62.54 364.33 L62.62 363.84 L62.71 363.34 L62.79 362.85 L62.88 362.36 L62.96 361.87 L63.05 361.38 L63.13 360.88 L63.22 360.39 L63.30 359.90 L63.38 359.41 L63.47 358.91 L63.55 358.42 L63.64 357.93 L63.73 357.44 L63.81 356.94 L63.90 356.45 L63.98 355.96 L64.07 355.47 L64.16 354.98 L64.25 354.48 L64.33 353.99 L64.42 353.50 L64.51 353.01 L64.60 352.52 L64.69 352.02 L64.78 351.53 L64.87 351.04 L64.96 350.55 L65.06 350.06 L65.15 349.57 L65.24 349.07 L65.34 348.58 L65.44 348.09 L65.53 347.60 L65.63 347.11 L65.73 346.62 L65.83 346.13 L65.93 345.64 L66.03 345.15 L66.13 344.66 L66.24 344.17 L66.34 343.68 L66.45 343.19 L66.55 342.70 L66.66 342.21 L66.77 341.72 L66.88 341.24 L66.99 340.75 L67.11 340.26 L67.22 339.77 L67.34 339.28 L67.46 338.80 L67.58 338.31 L67.70 337.82 L67.82 337.34 L67.94 336.85 L68.07 336.36 L68.19 335.88 L68.32 335.39 L68.45 334.91 L68.59 334.42 L68.72 333.94 L68.86 333.45 L68.99 332.97 L69.13 332.48 L69.27 332.00 L69.42 331.52 L69.56 331.03 L69.71 330.55 L69.86 330.07 L70.01 329.59 L70.16 329.11 L70.32 328.62 L70.48 328.14 L70.64 327.66 L70.80 327.18 L70.96 326.70 L71.13 326.22 L71.30 325.75 L71.47 325.27 L71.64 324.79 L71.82 324.31 L72.00 323.83 L72.18 323.36 L72.36 322.88 L72.54 322.40 L72.73 321.93 L72.92 321.45 L73.12 320.98 L73.31 320.51 L73.51 320.03 L73.71 319.56 L73.92 319.09 L74.13 318.61 L74.34 318.14 L74.55 317.67 L74.77 317.20 L74.98 316.73 L75.21 316.26 L75.43 315.79 L75.66 315.32 L75.89 314.85 L76.12 314.38 L76.36 313.92 L76.60 313.45 L76.84 313.00 L77.09 312.54 L77.34 312.10 L77.60 311.67 L77.86 311.26 L78.12 310.86 L78.39 310.47 L78.67 310.11 L78.95 309.77 L79.23 309.46 L79.52 309.17 L79.82 308.91 L80.12 308.68 L80.43 308.49 L80.74 308.33 L81.06 308.21 L81.39 308.13 L81.72 308.09 L82.06 308.09 L82.41 308.14 L82.77 308.24 L83.13 308.39 L83.50 308.60 L83.88 308.85 L84.27 309.16 L84.66 309.52 L85.05 309.92 L85.44 310.35 L85.83 310.82 L86.21 311.31 L86.58 311.82 L86.94 312.35 L87.29 312.89 L87.62 313.44 L87.93 313.99 L88.22 314.54 L88.49 315.08 L88.74 315.61 L88.96 316.14 L89.17 316.65 L89.36 317.17 L89.53 317.67 L89.69 318.17 L89.83 318.66 L89.96 319.15 L90.08 319.64 L90.18 320.12 L90.28 320.60 L90.37 321.07 L90.45 321.54 L90.53 322.01 L90.61 322.48 L90.68 322.95 L90.75 323.41 L90.82 323.88 L90.89 324.34 L90.96 324.81 L91.04 325.28 L91.12 325.74 L91.21 326.21 L91.29 326.68 L91.38 327.15 L91.48 327.62 L91.57 328.09 L91.67 328.56 L91.78 329.03 L91.88 329.51 L91.99 329.98 L92.10 330.45 L92.21 330.93 L92.32 331.40 L92.44 331.88 L92.55 332.36 L92.67 332.83 L92.80 333.31 L92.92 333.79 L93.04 334.27 L93.17 334.75 L93.29 335.23 L93.42 335.71 L93.55 336.19 L93.68 336.67 L93.81 337.15 L93.94 337.64 L94.07 338.12 L94.21 338.60 L94.34 339.09 L94.47 339.57 L94.61 340.06 L94.74 340.54 L94.87 341.03 L95.00 341.52 L95.14 342.00 L95.27 342.49 L95.40 342.98 L95.53 343.47 L95.66 343.96 L95.79 344.44 L95.92 344.93 L96.04 345.42 L96.17 345.91 L96.29 346.40 L96.42 346.89 L96.54 347.39 L96.66 347.88 L96.78 348.37 L96.89 348.86 L97.01 349.35 L97.12 349.84 L97.23 350.34 L97.34 350.83 L97.45 351.32 L97.56 351.82 L97.66 352.31 L97.77 352.80 L97.87 353.30 L97.97 353.79 L98.07 354.29 L98.17 354.78 L98.27 355.28 L98.36 355.77 L98.46 356.27 L98.55 356.76 L98.65 357.26 L98.74 357.75 L98.83 358.25 L98.92 358.74 L99.01 359.24 L99.10 359.74 L99.19 360.23 L99.28 360.73 L99.37 361.22 L99.46 361.72 L99.54 362.21 L99.63 362.71 L99.72 363.21 L99.80 363.70 L99.89 364.20 L99.97 364.69 L100.06 365.19 L100.15 365.68 L100.23 366.18 L100.32 366.68 L100.40 367.17 L100.49 367.67 L100.57 368.16 L100.66 368.66 L100.75 369.15 L100.83 369.65 L100.92 370.14 L101.01 370.64 L101.09 371.13 L101.18 371.62 L101.27 372.12 L101.36 372.61 L101.45 373.11 L101.54 373.60 L101.63 374.09 L101.72 374.58 L101.82 375.08 L101.91 375.57 L102.01 376.06 L102.10 376.55 L102.20 377.04 L102.30 377.54 L102.40 378.03 L102.50 378.52 L102.60 379.01 L102.70 379.50 L102.81 379.99 L102.91 380.47 L103.02 380.96 L103.13 381.45 L103.24 381.94 L103.35 382.43 L103.46 382.91 L103.58 383.40" fill="none" stroke="#EDB120" stroke-width="1.95" stroke-dasharray="5.6 1.8 2.4 1.8" stroke-linejoin="round" />
<path d="M103.58 383.40 L103.70 383.89 L103.82 384.37 L103.94 384.86 L104.06 385.34 L104.18 385.83 L104.31 386.31 L104.44 386.79 L104.57 387.28 L104.70 387.76 L104.84 388.24 L104.97 388.72 L105.11 389.20 L105.25 389.68 L105.40 390.16 L105.54 390.64 L105.69 391.12 L105.85 391.59 L106.00 392.07 L106.16 392.55 L106.32 393.02 L106.48 393.50 L106.64 393.97 L106.81 394.45 L106.98 394.92 L107.16 395.39 L107.33 395.86 L107.51 396.33 L107.69 396.80 L107.88 397.27 L108.07 397.74 L108.26 398.21 L108.46 398.68 L108.66 399.14 L108.86 399.61 L109.06 400.07 L109.27 400.53 L109.49 400.99 L109.70 401.45 L109.92 401.91 L110.15 402.36 L110.37 402.82 L110.60 403.27 L110.84 403.71 L111.08 404.16 L111.32 404.60 L111.56 405.04 L111.82 405.47 L112.07 405.91 L112.33 406.33 L112.59 406.76 L112.86 407.18 L113.13 407.59 L113.40 408.01 L113.68 408.41 L113.97 408.82 L114.25 409.22 L114.55 409.61 L114.84 410.00 L115.14 410.38 L115.45 410.76 L115.76 411.13 L116.08 411.49 L116.40 411.85 L116.72 412.21 L117.05 412.55 L117.38 412.90 L117.72 413.23 L118.07 413.56 L118.42 413.88 L118.77 414.19 L119.13 414.50 L119.50 414.79 L119.87 415.09 L120.24 415.37 L120.62 415.64 L121.01 415.91 L121.40 416.17 L121.79 416.42 L122.19 416.66 L122.60 416.89 L123.01 417.11 L123.43 417.33 L123.85 417.53 L124.28 417.73 L124.72 417.91 L125.16 418.09 L125.61 418.26 L126.06 418.41 L126.52 418.56 L126.98 418.70 L127.45 418.82 L127.92 418.94 L128.40 419.05 L128.89 419.16 L129.37 419.25 L129.86 419.34 L130.36 419.42 L130.86 419.49 L131.36 419.56 L131.87 419.62 L132.38 419.68 L132.89 419.73 L133.41 419.78 L133.93 419.82 L134.45 419.86 L134.98 419.89 L135.50 419.92 L136.03 419.95 L136.56 419.97 L137.09 419.99 L137.62 420.01 L138.16 420.03 L138.69 420.04 L139.23 420.06 L139.77 420.07 L140.30 420.08 L140.84 420.09 L141.38 420.11 L141.92 420.12 L142.45 420.13 L142.99 420.15 L143.53 420.16 L144.06 420.18 L144.60 420.20 L145.13 420.22 L145.66 420.25 L146.19 420.28 L146.72 420.31 L147.25 420.35 L147.77 420.39 L148.29 420.43 L148.81 420.48 L149.33 420.53 L149.84 420.59 L150.35 420.66 L150.86 420.73 L151.36 420.81 L151.86 420.90 L152.36 420.99 L152.85 421.09 L153.34 421.20 L153.82 421.31 L154.30 421.43 L154.78 421.56 L155.25 421.70 L155.72 421.84 L156.18 422.00 L156.64 422.16 L157.10 422.32 L157.55 422.50 L157.99 422.68 L158.44 422.87 L158.87 423.07 L159.31 423.27 L159.74 423.49 L160.16 423.71 L160.59 423.93 L161.00 424.17 L161.41 424.41 L161.82 424.66 L162.23 424.92 L162.63 425.18 L163.02 425.46 L163.41 425.74 L163.80 426.02 L164.18 426.32 L164.56 426.62 L164.93 426.93 L165.30 427.25 L165.66 427.57 L166.02 427.91 L166.38 428.25 L166.73 428.59 L167.07 428.95 L167.41 429.31 L167.75 429.68 L168.08 430.06 L168.41 430.45 L168.73 430.84 L169.05 431.24 L169.36 431.65 L169.67 432.06 L169.98 432.49 L170.27 432.92 L170.57 433.35 L170.86 433.80 L171.14 434.25 L171.42 434.71 L171.70 435.18 L171.97 435.66 L172.24 436.14 L172.50 436.62 L172.76 437.11 L173.03 437.59 L173.30 438.06 L173.57 438.52 L173.84 438.96 L174.13 439.39" fill="none" stroke="#A2142F" stroke-width="1.95" stroke-dasharray="5.6 1.8 2.4 1.8" stroke-linejoin="round" />
<path d="M174.13 439.39 L174.42 439.79 L174.73 440.16 L175.05 440.50 L175.38 440.81 L175.73 441.08 L176.10 441.31 L176.49 441.49 L176.90 441.62 L177.32 441.71 L177.77 441.75 L178.22 441.76 L178.67 441.72 L179.14 441.64 L179.60 441.53 L180.05 441.39 L180.50 441.21 L180.94 441.01 L181.36 440.78 L181.76 440.53 L182.14 440.25 L182.50 439.96 L182.85 439.64 L183.17 439.30 L183.48 438.95 L183.77 438.58 L184.04 438.19 L184.30 437.79 L184.55 437.37 L184.78 436.94 L185.00 436.49 L185.21 436.04 L185.40 435.57 L185.59 435.09 L185.77 434.61 L185.93 434.12 L186.09 433.62 L186.24 433.11 L186.39 432.60 L186.53 432.08 L186.67 431.57 L186.80 431.05 L186.93 430.52 L187.05 430.00 L187.18 429.48 L187.30 428.96 L187.42 428.44 L187.54 427.93 L187.67 427.42 L187.79 426.91 L187.91 426.40 L188.03 425.89 L188.15 425.38 L188.27 424.88 L188.39 424.38 L188.51 423.88 L188.63 423.38 L188.75 422.88 L188.86 422.39 L188.98 421.89 L189.10 421.40 L189.22 420.91 L189.33 420.42 L189.45 419.93 L189.56 419.44 L189.68 418.96 L189.79 418.47 L189.91 417.99 L190.02 417.50 L190.14 417.02 L190.25 416.54 L190.36 416.06 L190.48 415.58 L190.59 415.10 L190.70 414.62 L190.81 414.14 L190.93 413.66 L191.04 413.18 L191.15 412.70 L191.26 412.23 L191.37 411.75 L191.48 411.27 L191.59 410.80 L191.70 410.32 L191.80 409.84 L191.91 409.37 L192.02 408.89 L192.13 408.41 L192.24 407.93 L192.34 407.46 L192.45 406.98 L192.55 406.50 L192.66 406.02 L192.77 405.54 L192.87 405.06 L192.98 404.58 L193.08 404.10 L193.18 403.62 L193.29 403.13 L193.39 402.65 L193.49 402.17 L193.60 401.68 L193.70 401.20 L193.80 400.71 L193.90 400.23 L194.01 399.74 L194.11 399.25 L194.21 398.77 L194.31 398.28 L194.41 397.79 L194.51 397.30 L194.61 396.81 L194.71 396.32 L194.81 395.83 L194.91 395.34 L195.01 394.85 L195.10 394.36 L195.20 393.87 L195.30 393.38 L195.40 392.89 L195.49 392.39 L195.59 391.90 L195.69 391.41 L195.78 390.92 L195.88 390.42 L195.98 389.93 L196.07 389.43 L196.17 388.94 L196.26 388.44 L196.36 387.95 L196.45 387.45 L196.55 386.96 L196.64 386.46 L196.74 385.97 L196.83 385.47 L196.92 384.98 L197.02 384.48 L197.11 383.98 L197.20 383.49 L197.30 382.99 L197.39 382.49 L197.48 382.00 L197.57 381.50 L197.67 381.00 L197.76 380.50 L197.85 380.01 L197.94 379.51 L198.03 379.01 L198.12 378.51 L198.22 378.02 L198.31 377.52 L198.40 377.02 L198.49 376.52 L198.58 376.03 L198.67 375.53 L198.76 375.03 L198.85 374.54 L198.94 374.04 L199.03 373.54 L199.12 373.04 L199.21 372.55 L199.30 372.05 L199.39 371.55 L199.47 371.06 L199.56 370.56 L199.65 370.06 L199.74 369.57 L199.83 369.07 L199.92 368.58 L200.01 368.08 L200.09 367.58 L200.18 367.09 L200.27 366.59 L200.36 366.10 L200.45 365.60 L200.53 365.11 L200.62 364.62 L200.71 364.12 L200.80 363.63 L200.88 363.14 L200.97 362.64 L201.06 362.15 L201.15 361.66 L201.23 361.17 L201.32 360.67 L201.41 360.18 L201.49 359.69 L201.58 359.20 L201.67 358.71 L201.76 358.22 L201.84 357.73 L201.93 357.24 L202.02 356.75 L202.11 356.26 L202.20 355.77 L202.28 355.28 L202.37 354.79 L202.46 354.31 L202.55 353.82 L202.64 353.33 L202.73 352.84 L202.82 352.35 L202.91 351.87 L203.00 351.38 L203.09 350.89 L203.18 350.41 L203.27 349.92 L203.37 349.43 L203.46 348.95 L203.55 348.46 L203.65 347.97 L203.74 347.49 L203.83 347.00 L203.93 346.51 L204.02 346.03 L204.12 345.54 L204.22 345.06 L204.31 344.57 L204.41 344.09 L204.51 343.60 L204.61 343.12 L204.71 342.63 L204.81 342.14 L204.91 341.66 L205.02 341.17 L205.12 340.69 L205.22 340.20 L205.33 339.72 L205.43 339.23 L205.54 338.75 L205.65 338.26 L205.75 337.78 L205.86 337.29 L205.97 336.81 L206.08 336.32 L206.19 335.84 L206.31 335.35 L206.42 334.87 L206.54 334.38 L206.65 333.89 L206.77 333.41 L206.89 332.92 L207.00 332.44 L207.12 331.95 L207.25 331.47 L207.37 330.98 L207.49 330.49 L207.62 330.01 L207.74 329.52 L207.87 329.03 L208.00 328.55 L208.13 328.06 L208.26 327.57 L208.39 327.09 L208.52 326.60 L208.66 326.11 L208.79 325.62 L208.93 325.13 L209.07 324.65 L209.21 324.16 L209.35 323.67 L209.49 323.18 L209.64 322.69 L209.79 322.20 L209.93 321.71 L210.08 321.22 L210.23 320.73 L210.38 320.24 L210.54 319.75 L210.69 319.26 L210.85 318.77 L211.01 318.28 L211.17 317.79 L211.33 317.29 L211.50 316.80 L211.66 316.31 L211.83 315.82 L212.00 315.32 L212.17 314.83 L212.34 314.34 L212.52 313.85 L212.70 313.36 L212.89 312.88 L213.09 312.41 L213.29 311.95 L213.51 311.50 L213.74 311.06 L213.98 310.63 L214.23 310.22 L214.49 309.83 L214.78 309.45 L215.08 309.10 L215.39 308.76 L215.73 308.45 L216.09 308.17 L216.47 307.91 L216.87 307.67 L217.29 307.47 L217.74 307.30 L218.21 307.16 L218.70 307.05 L219.19 306.99 L219.69 306.95 L220.19 306.96 L220.68 307.01 L221.17 307.09 L221.64 307.23 L222.10 307.40 L222.53 307.63 L222.93 307.90 L223.30 308.21 L223.65 308.57 L223.98 308.96 L224.28 309.38 L224.56 309.82 L224.83 310.28 L225.08 310.76 L225.31 311.24 L225.54 311.73 L225.75 312.21 L225.96 312.70 L226.16 313.18 L226.36 313.66 L226.54 314.14 L226.72 314.61 L226.89 315.09 L227.06 315.57 L227.22 316.04 L227.38 316.52 L227.54 316.99 L227.69 317.47 L227.84 317.94 L227.98 318.41 L228.12 318.89 L228.27 319.36 L228.41 319.84 L228.55 320.32 L228.68 320.79 L228.82 321.27 L228.96 321.75 L229.09 322.23 L229.22 322.71 L229.35 323.19 L229.49 323.67 L229.61 324.15 L229.74 324.63 L229.87 325.11 L230.00 325.59 L230.12 326.08 L230.25 326.56 L230.37 327.04 L230.49 327.53 L230.62 328.01 L230.74 328.50 L230.86 328.98 L230.98 329.47 L231.10 329.95 L231.21 330.44 L231.33 330.92 L231.45 331.41 L231.56 331.90 L231.68 332.39 L231.79 332.87 L231.91 333.36 L232.02 333.85 L232.14 334.34 L232.25 334.82 L232.36 335.31 L232.47 335.80 L232.58 336.29 L232.69 336.78 L232.81 337.27 L232.92 337.76 L233.03 338.25 L233.14 338.74 L233.24 339.22 L233.35 339.71 L233.46 340.20 L233.57 340.69 L233.68 341.18 L233.79 341.67 L233.90 342.16 L234.01 342.65 L234.11 343.14 L234.22 343.63 L234.33 344.12 L234.44 344.61 L234.55 345.10 L234.65 345.59 L234.76 346.07 L234.87 346.56 L234.98 347.05 L235.08 347.54 L235.19 348.03 L235.30 348.52 L235.40 349.01 L235.51 349.50 L235.61 349.99 L235.72 350.48 L235.83 350.97 L235.93 351.46 L236.04 351.95 L236.14 352.44 L236.25 352.93 L236.35 353.41 L236.46 353.90 L236.56 354.39 L236.67 354.88 L236.77 355.37 L236.88 355.86 L236.98 356.35 L237.08 356.84 L237.19 357.33 L237.29 357.82 L237.39 358.31 L237.50 358.80 L237.60 359.29 L237.70 359.78 L237.80 360.27 L237.91 360.76 L238.01 361.25 L238.11 361.74 L238.21 362.23 L238.31 362.72 L238.41 363.21 L238.52 363.70 L238.62 364.19 L238.72 364.68 L238.82 365.17 L238.92 365.66 L239.02 366.15 L239.12 366.64 L239.22 367.13 L239.32 367.62 L239.41 368.11 L239.51 368.60 L239.61 369.09 L239.71 369.58 L239.81 370.07 L239.91 370.56 L240.00 371.06 L240.10 371.55 L240.20 372.04 L240.30 372.53 L240.39 373.02 L240.49 373.51 L240.59 374.00 L240.68 374.49 L240.78 374.98 L240.87 375.48 L240.97 375.97 L241.06 376.46 L241.16 376.95 L241.25 377.44 L241.35 377.93 L241.44 378.43 L241.53 378.92 L241.63 379.41 L241.72 379.90 L241.81 380.39 L241.91 380.89 L242.00 381.38 L242.09 381.87 L242.18 382.36" fill="none" stroke="#0072BD" stroke-width="1.95" stroke-dasharray="5.6 1.8 2.4 1.8" stroke-linejoin="round" />
<path d="M35.40 296.30 V462.20 H265.80" fill="none" stroke="#8c8c8c" stroke-width="0.75"/>
<line x1="35.40" y1="462.20" x2="35.40" y2="460.00" stroke="#8c8c8c" stroke-width="0.8"/>
<text x="35.40" y="475.00" font-size="10.1" text-anchor="middle" fill="#444" >0</text>
<line x1="73.80" y1="462.20" x2="73.80" y2="460.00" stroke="#8c8c8c" stroke-width="0.8"/>
<text x="73.80" y="475.00" font-size="10.1" text-anchor="middle" fill="#444" >5</text>
<line x1="112.20" y1="462.20" x2="112.20" y2="460.00" stroke="#8c8c8c" stroke-width="0.8"/>
<text x="112.20" y="475.00" font-size="10.1" text-anchor="middle" fill="#444" >10</text>
<line x1="150.60" y1="462.20" x2="150.60" y2="460.00" stroke="#8c8c8c" stroke-width="0.8"/>
<text x="150.60" y="475.00" font-size="10.1" text-anchor="middle" fill="#444" >15</text>
<line x1="189.00" y1="462.20" x2="189.00" y2="460.00" stroke="#8c8c8c" stroke-width="0.8"/>
<text x="189.00" y="475.00" font-size="10.1" text-anchor="middle" fill="#444" >20</text>
<line x1="227.40" y1="462.20" x2="227.40" y2="460.00" stroke="#8c8c8c" stroke-width="0.8"/>
<text x="227.40" y="475.00" font-size="10.1" text-anchor="middle" fill="#444" >25</text>
<line x1="265.80" y1="462.20" x2="265.80" y2="460.00" stroke="#8c8c8c" stroke-width="0.8"/>
<text x="265.80" y="475.00" font-size="10.1" text-anchor="middle" fill="#444" >30</text>
<line x1="35.40" y1="462.20" x2="37.60" y2="462.20" stroke="#8c8c8c" stroke-width="0.8"/>
<text x="32.00" y="465.33" font-size="10.1" text-anchor="end" fill="#444" >-20</text>
<line x1="35.40" y1="438.50" x2="37.60" y2="438.50" stroke="#8c8c8c" stroke-width="0.8"/>
<text x="32.00" y="441.63" font-size="10.1" text-anchor="end" fill="#444" >0</text>
<line x1="35.40" y1="414.80" x2="37.60" y2="414.80" stroke="#8c8c8c" stroke-width="0.8"/>
<text x="32.00" y="417.93" font-size="10.1" text-anchor="end" fill="#444" >20</text>
<line x1="35.40" y1="391.10" x2="37.60" y2="391.10" stroke="#8c8c8c" stroke-width="0.8"/>
<text x="32.00" y="394.23" font-size="10.1" text-anchor="end" fill="#444" >40</text>
<line x1="35.40" y1="367.40" x2="37.60" y2="367.40" stroke="#8c8c8c" stroke-width="0.8"/>
<text x="32.00" y="370.53" font-size="10.1" text-anchor="end" fill="#444" >60</text>
<line x1="35.40" y1="343.70" x2="37.60" y2="343.70" stroke="#8c8c8c" stroke-width="0.8"/>
<text x="32.00" y="346.83" font-size="10.1" text-anchor="end" fill="#444" >80</text>
<line x1="35.40" y1="320.00" x2="37.60" y2="320.00" stroke="#8c8c8c" stroke-width="0.8"/>
<text x="32.00" y="323.13" font-size="10.1" text-anchor="end" fill="#444" >100</text>
<line x1="35.40" y1="296.30" x2="37.60" y2="296.30" stroke="#8c8c8c" stroke-width="0.8"/>
<text x="32.00" y="299.43" font-size="10.1" text-anchor="end" fill="#444" >120</text>
<text x="150.50" y="489.00" font-size="12" text-anchor="middle" fill="#444" >Time (s)</text>
<text transform="translate(10.80 379.80) rotate(-90)" font-size="12.3" text-anchor="middle" fill="#444" letter-spacing="0.4"><tspan font-style="italic">ψ</tspan> (°)</text>
<text x="134.00" y="510.00" font-size="10.8" text-anchor="middle" fill="#222" font-weight="bold">(b)</text>
<line x1="310.90" y1="296.30" x2="310.90" y2="462.20" stroke="#e7e7e7" stroke-width="0.6"/>
<line x1="349.52" y1="296.30" x2="349.52" y2="462.20" stroke="#e7e7e7" stroke-width="0.6"/>
<line x1="388.13" y1="296.30" x2="388.13" y2="462.20" stroke="#e7e7e7" stroke-width="0.6"/>
<line x1="426.75" y1="296.30" x2="426.75" y2="462.20" stroke="#e7e7e7" stroke-width="0.6"/>
<line x1="465.37" y1="296.30" x2="465.37" y2="462.20" stroke="#e7e7e7" stroke-width="0.6"/>
<line x1="503.98" y1="296.30" x2="503.98" y2="462.20" stroke="#e7e7e7" stroke-width="0.6"/>
<line x1="542.60" y1="296.30" x2="542.60" y2="462.20" stroke="#e7e7e7" stroke-width="0.6"/>
<line x1="310.90" y1="462.20" x2="542.60" y2="462.20" stroke="#e7e7e7" stroke-width="0.7"/>
<line x1="310.90" y1="420.73" x2="542.60" y2="420.73" stroke="#e7e7e7" stroke-width="0.7"/>
<line x1="310.90" y1="379.25" x2="542.60" y2="379.25" stroke="#e7e7e7" stroke-width="0.7"/>
<line x1="310.90" y1="337.77" x2="542.60" y2="337.77" stroke="#e7e7e7" stroke-width="0.7"/>
<line x1="310.90" y1="296.30" x2="542.60" y2="296.30" stroke="#e7e7e7" stroke-width="0.7"/>
<path d="M310.91 313.27 L311.74 313.85 L312.55 314.45 L313.34 315.07 L314.12 315.70 L314.87 316.36 L315.61 317.03 L316.33 317.71 L317.03 318.41 L317.72 319.12 L318.39 319.85 L319.05 320.59 L319.69 321.35 L320.32 322.11 L320.94 322.89 L321.54 323.68 L322.14 324.47 L322.72 325.28 L323.29 326.10 L323.86 326.92 L324.41 327.76 L324.96 328.60 L325.49 329.44 L326.02 330.29 L326.55 331.15 L327.06 332.01 L327.57 332.88 L328.08 333.76 L328.58 334.63 L329.07 335.52 L329.55 336.40 L330.04 337.30 L330.51 338.19 L330.98 339.09 L331.45 339.99 L331.91 340.90 L332.37 341.81 L332.83 342.72 L333.28 343.63 L333.72 344.55 L334.17 345.47 L334.61 346.39 L335.05 347.32 L335.48 348.24 L335.92 349.17 L336.35 350.10 L336.78 351.03 L337.21 351.96 L337.64 352.89 L338.07 353.82 L338.49 354.75 L338.92 355.68 L339.34 356.61 L339.77 357.54 L340.19 358.47 L340.62 359.40 L341.05 360.33 L341.48 361.26 L341.90 362.19 L342.33 363.11 L342.77 364.03 L343.20 364.95 L343.63 365.87 L344.07 366.79 L344.50 367.71 L344.94 368.63 L345.38 369.54 L345.82 370.46 L346.26 371.37 L346.70 372.28 L347.14 373.19 L347.59 374.10 L348.03 375.01 L348.48 375.92 L348.92 376.82 L349.37 377.73 L349.81 378.64 L350.26 379.54 L350.71 380.45 L351.16 381.35 L351.61 382.25 L352.06 383.16 L352.51 384.06 L352.96 384.96 L353.41 385.86 L353.86 386.76 L354.31 387.66 L354.76 388.56 L355.21 389.46 L355.67 390.37 L356.12 391.27 L356.57 392.17 L357.02 393.07 L357.47 393.97 L357.93 394.87 L358.38 395.77 L358.83 396.67 L359.28 397.57 L359.73 398.47 L360.19 399.37 L360.64 400.28 L361.09 401.18 L361.54 402.08 L361.99 402.99 L362.44 403.89 L362.89 404.80 L363.33 405.70 L363.78 406.61 L364.23 407.52 L364.68 408.43 L365.12 409.33 L365.57 410.24 L366.01 411.16 L366.46 412.07 L366.90 412.98 L367.34 413.90 L367.78 414.81 L368.22 415.73 L368.66 416.65 L369.10 417.56 L369.54 418.49 L369.97 419.41 L370.41 420.33 L370.84 421.26 L371.27 422.18" fill="none" stroke="#EDB120" stroke-width="1.95" stroke-linejoin="round" />
<path d="M371.27 422.18 L372.06 421.55 L372.84 420.90 L373.60 420.24 L374.35 419.57 L375.09 418.89 L375.81 418.20 L376.52 417.49 L377.22 416.77 L377.90 416.05 L378.58 415.31 L379.24 414.57 L379.90 413.81 L380.54 413.05 L381.18 412.27 L381.81 411.50 L382.43 410.71 L383.04 409.91 L383.64 409.11 L384.24 408.31 L384.83 407.49 L385.42 406.67 L386.00 405.85 L386.57 405.02 L387.14 404.19 L387.71 403.35 L388.27 402.51 L388.83 401.67 L389.39 400.82 L389.94 399.97 L390.49 399.13 L391.04 398.27 L391.59 397.42 L392.14 396.57 L392.69 395.71 L393.24 394.86 L393.80 394.01 L394.35 393.16 L394.90 392.31 L395.46 391.46 L396.02 390.61 L396.58 389.77 L397.14 388.92 L397.71 388.08 L398.28 387.24 L398.86 386.41 L399.43 385.57 L400.01 384.74 L400.59 383.91 L401.17 383.08 L401.76 382.26 L402.34 381.43 L402.93 380.61 L403.52 379.79 L404.12 378.96 L404.71 378.15 L405.31 377.33 L405.91 376.51 L406.51 375.70 L407.11 374.88 L407.71 374.07 L408.31 373.26 L408.92 372.45 L409.53 371.64 L410.13 370.83 L410.74 370.02 L411.35 369.21 L411.97 368.41 L412.58 367.60 L413.19 366.80 L413.80 365.99 L414.42 365.19 L415.03 364.38 L415.65 363.58 L416.26 362.78 L416.88 361.97 L417.50 361.17 L418.11 360.37 L418.73 359.57 L419.35 358.76 L419.96 357.96 L420.58 357.16 L421.20 356.36 L421.81 355.55 L422.43 354.75 L423.04 353.95 L423.66 353.14 L424.27 352.34 L424.89 351.53 L425.50 350.73 L426.11 349.92 L426.73 349.12 L427.34 348.31 L427.95 347.50 L428.56 346.69 L429.16 345.88 L429.77 345.07 L430.37 344.26 L430.98 343.45 L431.58 342.63 L432.18 341.82" fill="none" stroke="#A2142F" stroke-width="1.95" stroke-linejoin="round" />
<path d="M432.18 341.82 L432.83 342.59 L433.48 343.37 L434.13 344.15 L434.78 344.92 L435.43 345.70 L436.08 346.48 L436.73 347.25 L437.38 348.03 L438.03 348.80 L438.68 349.58 L439.33 350.35 L439.98 351.13 L440.63 351.91 L441.27 352.68 L441.92 353.46 L442.57 354.23 L443.22 355.01 L443.87 355.78 L444.52 356.56 L445.16 357.33 L445.81 358.11 L446.46 358.88 L447.11 359.66 L447.75 360.43 L448.40 361.21 L449.05 361.98 L449.70 362.76 L450.35 363.53 L450.99 364.31 L451.64 365.08 L452.29 365.85 L452.94 366.63 L453.58 367.40 L454.23 368.17 L454.88 368.95 L455.53 369.72 L456.18 370.49 L456.83 371.27 L457.47 372.04 L458.12 372.81 L458.77 373.59 L459.42 374.36 L460.07 375.13 L460.72 375.90 L461.37 376.67 L462.02 377.44 L462.67 378.22 L463.32 378.99 L463.97 379.76 L464.62 380.53 L465.27 381.30 L465.92 382.07 L466.57 382.84 L467.23 383.61 L467.88 384.38 L468.53 385.15 L469.18 385.92 L469.84 386.69 L470.49 387.46 L471.14 388.22 L471.80 388.99 L472.45 389.76 L473.10 390.53 L473.76 391.30 L474.42 392.06 L475.07 392.83 L475.73 393.60 L476.38 394.36 L477.04 395.13 L477.70 395.89 L478.36 396.66 L479.01 397.43 L479.67 398.19 L480.33 398.96 L480.99 399.72 L481.65 400.48 L482.31 401.25 L482.98 402.01 L483.64 402.77 L484.30 403.54 L484.96 404.30 L485.63 405.06 L486.29 405.82 L486.96 406.59 L487.62 407.35 L488.29 408.11 L488.95 408.87 L489.62 409.63 L490.29 410.39 L490.96 411.15 L491.63 411.91 L492.30 412.67 L492.97 413.42 L493.64 414.18" fill="none" stroke="#0072BD" stroke-width="1.95" stroke-linejoin="round" />
<path d="M310.91 399.09 L311.06 398.08 L311.20 397.07 L311.35 396.06 L311.50 395.05 L311.65 394.05 L311.80 393.04 L311.95 392.04 L312.10 391.04 L312.26 390.04 L312.41 389.04 L312.56 388.04 L312.72 387.05 L312.87 386.05 L313.03 385.06 L313.18 384.06 L313.34 383.07 L313.50 382.08 L313.65 381.09 L313.81 380.10 L313.97 379.11 L314.13 378.13 L314.29 377.14 L314.45 376.15 L314.62 375.17 L314.78 374.18 L314.94 373.20 L315.11 372.21 L315.27 371.23 L315.44 370.25 L315.61 369.26 L315.77 368.28 L315.94 367.30 L316.11 366.32 L316.28 365.34 L316.45 364.35 L316.62 363.37 L316.80 362.39 L316.97 361.41 L317.14 360.43 L317.32 359.45 L317.49 358.46 L317.67 357.48 L317.85 356.50 L318.03 355.52 L318.20 354.54 L318.38 353.55 L318.57 352.57 L318.75 351.59 L318.93 350.60 L319.11 349.62 L319.30 348.63 L319.48 347.65 L319.67 346.66 L319.86 345.67 L320.04 344.68 L320.23 343.70 L320.42 342.71 L320.61 341.72 L320.80 340.72 L321.00 339.73 L321.19 338.74 L321.38 337.74 L321.58 336.75 L321.78 335.75 L321.97 334.75 L322.17 333.75 L322.38 332.76 L322.58 331.76 L322.80 330.76 L323.02 329.76 L323.25 328.77 L323.48 327.78 L323.73 326.79 L323.99 325.81 L324.27 324.83 L324.56 323.85 L324.86 322.88 L325.19 321.92 L325.53 320.96 L325.89 320.01 L326.27 319.07 L326.68 318.14 L327.11 317.21 L327.56 316.30 L328.04 315.39 L328.55 314.50 L329.09 313.61 L329.66 312.74 L330.26 311.88 L330.89 311.04 L331.55 310.24 L332.24 309.52 L332.96 308.91 L333.70 308.46 L334.46 308.20 L335.24 308.17 L336.04 308.39 L336.83 308.82 L337.60 309.37 L338.32 309.97 L339.00 310.62 L339.64 311.30 L340.23 312.01 L340.79 312.76 L341.31 313.55 L341.80 314.36 L342.25 315.19 L342.67 316.06 L343.06 316.94 L343.43 317.85 L343.77 318.78 L344.09 319.73 L344.39 320.70 L344.67 321.68 L344.94 322.67 L345.19 323.67 L345.42 324.68 L345.65 325.70 L345.87 326.73 L346.08 327.75 L346.28 328.78 L346.49 329.81 L346.69 330.84 L346.89 331.86 L347.10 332.89 L347.30 333.91 L347.50 334.93 L347.70 335.95 L347.90 336.96 L348.09 337.98 L348.29 338.99 L348.49 340.00 L348.69 341.01 L348.88 342.02 L349.08 343.02 L349.28 344.03 L349.47 345.03 L349.67 346.03 L349.86 347.04 L350.05 348.03 L350.25 349.03 L350.44 350.03 L350.63 351.02 L350.83 352.02 L351.02 353.01 L351.21 354.00 L351.40 354.99 L351.59 355.98 L351.78 356.97 L351.98 357.96 L352.17 358.95 L352.36 359.93 L352.55 360.92 L352.74 361.90 L352.93 362.88 L353.12 363.87 L353.31 364.85 L353.50 365.83 L353.69 366.81 L353.88 367.79 L354.07 368.77 L354.26 369.75 L354.45 370.72 L354.64 371.70 L354.83 372.68 L355.02 373.65 L355.22 374.63 L355.41 375.61 L355.60 376.58 L355.79 377.55 L355.98 378.53 L356.17 379.50 L356.37 380.48 L356.56 381.45 L356.75 382.43 L356.94 383.40 L357.14 384.37 L357.33 385.35 L357.53 386.32 L357.72 387.29 L357.92 388.27 L358.11 389.24 L358.31 390.21 L358.51 391.19 L358.70 392.16 L358.90 393.14 L359.10 394.11 L359.30 395.09 L359.50 396.06 L359.70 397.04 L359.90 398.01 L360.10 398.99 L360.30 399.97 L360.50 400.95 L360.71 401.92 L360.91 402.90 L361.11 403.88 L361.32 404.86 L361.53 405.84 L361.73 406.83 L361.94 407.81 L362.15 408.79 L362.36 409.77 L362.57 410.76 L362.78 411.75 L362.99 412.73 L363.21 413.72 L363.42 414.71 L363.64 415.70 L363.85 416.69 L364.07 417.68 L364.29 418.67 L364.51 419.67 L364.73 420.66 L364.95 421.66 L365.18 422.65 L365.41 423.65 L365.64 424.65 L365.87 425.64 L366.11 426.63 L366.36 427.62 L366.61 428.61 L366.86 429.60 L367.12 430.58 L367.39 431.56 L367.67 432.54 L367.95 433.51 L368.25 434.48 L368.55 435.44 L368.86 436.40 L369.18 437.35 L369.51 438.30 L369.86 439.24 L370.21 440.17 L370.57 441.10 L370.95 442.01 L371.34 442.92 L371.75 443.83 L372.17 444.72 L372.60 445.60 L373.05 446.48 L373.52 447.34 L374.03 448.16 L374.62 448.92 L375.31 449.59 L376.11 450.17 L377.06 450.61 L378.18 450.91" fill="none" stroke="#EDB120" stroke-width="1.95" stroke-dasharray="5.6 1.8 2.4 1.8" stroke-linejoin="round" />
<path d="M378.18 450.91 L378.42 450.06 L378.64 449.20 L378.86 448.33 L379.06 447.44 L379.26 446.53 L379.45 445.62 L379.62 444.69 L379.79 443.75 L379.96 442.79 L380.11 441.83 L380.26 440.85 L380.41 439.87 L380.55 438.87 L380.68 437.87 L380.82 436.86 L380.95 435.84 L381.07 434.82 L381.20 433.78 L381.32 432.75 L381.44 431.70 L381.57 430.65 L381.69 429.60 L381.82 428.55 L381.94 427.49 L382.07 426.43 L382.20 425.36 L382.34 424.30 L382.48 423.23 L382.62 422.17 L382.77 421.10 L382.93 420.04 L383.09 418.97 L383.26 417.91 L383.43 416.86 L383.62 415.80 L383.81 414.75 L384.02 413.70 L384.23 412.66 L384.45 411.63 L384.69 410.60 L384.94 409.57 L385.20 408.56 L385.47 407.55 L385.76 406.55 L386.06 405.56 L386.37 404.58 L386.70 403.61 L387.05 402.64 L387.41 401.69 L387.79 400.76 L388.19 399.83 L388.61 398.92 L389.04 398.02 L389.50 397.14 L389.98 396.27 L390.47 395.41 L390.99 394.57 L391.53 393.75 L392.09 392.94 L392.68 392.15 L393.29 391.38 L393.92 390.63 L394.58 389.90 L395.26 389.19 L395.97 388.49 L396.70 387.82 L397.46 387.17 L398.23 386.55 L399.03 385.95 L399.85 385.37 L400.68 384.82 L401.53 384.29 L402.40 383.79 L403.29 383.32 L404.19 382.88 L405.10 382.46 L406.03 382.08 L406.97 381.73 L407.91 381.41 L408.87 381.12 L409.84 380.86 L410.82 380.64 L411.80 380.45 L412.79 380.30 L413.78 380.19 L414.78 380.11 L415.78 380.06 L416.78 380.05 L417.79 380.08 L418.79 380.14 L419.79 380.23 L420.80 380.35 L421.80 380.51 L422.79 380.69 L423.79 380.91 L424.77 381.16 L425.75 381.44 L426.73 381.75 L427.70 382.09 L428.65 382.46 L429.60 382.85 L430.54 383.28 L431.46 383.73 L432.38 384.21 L433.28 384.71 L434.16 385.24 L435.03 385.79 L435.88 386.37 L436.72 386.97 L437.54 387.60 L438.34 388.25 L439.12 388.92 L439.87 389.62 L440.61 390.33 L441.33 391.07 L442.02 391.83 L442.68 392.61 L443.32 393.41 L443.93 394.22 L444.52 395.06 L445.08 395.91 L445.61 396.78 L446.11 397.67 L446.58 398.58 L447.01 399.50 L447.41 400.44 L447.78 401.39 L448.12 402.36 L448.42 403.34 L448.68 404.33 L448.90 405.34 L449.09 406.36" fill="none" stroke="#A2142F" stroke-width="1.95" stroke-dasharray="5.6 1.8 2.4 1.8" stroke-linejoin="round" />
<path d="M449.09 405.45 L449.18 404.46 L449.28 403.46 L449.38 402.46 L449.49 401.47 L449.61 400.47 L449.73 399.48 L449.86 398.48 L450.00 397.49 L450.14 396.50 L450.29 395.50 L450.45 394.51 L450.61 393.52 L450.77 392.53 L450.94 391.54 L451.12 390.55 L451.30 389.56 L451.48 388.57 L451.67 387.59 L451.86 386.60 L452.05 385.61 L452.25 384.63 L452.46 383.64 L452.66 382.65 L452.87 381.67 L453.08 380.68 L453.29 379.70 L453.51 378.72 L453.72 377.73 L453.94 376.75 L454.16 375.77 L454.38 374.78 L454.61 373.80 L454.83 372.82 L455.05 371.83 L455.28 370.85 L455.50 369.87 L455.73 368.89 L455.95 367.91 L456.17 366.92 L456.40 365.94 L456.62 364.96 L456.84 363.98 L457.06 363.00 L457.28 362.02 L457.50 361.03 L457.71 360.05 L457.92 359.07 L458.13 358.09 L458.34 357.11 L458.55 356.12 L458.75 355.14 L458.95 354.16 L459.14 353.18 L459.33 352.19 L459.52 351.21 L459.70 350.23 L459.88 349.25 L460.06 348.26 L460.23 347.28 L460.39 346.29 L460.56 345.31 L460.71 344.32 L460.87 343.34 L461.03 342.35 L461.18 341.37 L461.34 340.38 L461.49 339.40 L461.65 338.41 L461.81 337.43 L461.98 336.44 L462.15 335.46 L462.32 334.47 L462.50 333.49 L462.69 332.50 L462.88 331.52 L463.09 330.53 L463.30 329.55 L463.52 328.56 L463.75 327.58 L464.00 326.60 L464.25 325.61 L464.52 324.63 L464.81 323.65 L465.10 322.66 L465.42 321.68 L465.75 320.70 L466.09 319.72 L466.46 318.74 L466.84 317.76 L467.25 316.78 L467.67 315.80 L468.11 314.82 L468.58 313.84 L469.07 312.88 L469.58 311.93 L470.11 311.02 L470.67 310.17 L471.25 309.39 L471.85 308.70 L472.47 308.11 L473.12 307.65 L473.78 307.32 L474.47 307.14 L475.18 307.12 L475.89 307.25 L476.61 307.54 L477.32 307.97 L478.01 308.52 L478.70 309.18 L479.35 309.93 L479.99 310.76 L480.59 311.65 L481.15 312.58 L481.67 313.54 L482.14 314.52 L482.56 315.50 L482.94 316.48 L483.28 317.47 L483.59 318.45 L483.87 319.44 L484.12 320.43 L484.36 321.42 L484.59 322.41 L484.81 323.40 L485.02 324.39 L485.24 325.38 L485.46 326.37 L485.67 327.36 L485.89 328.35 L486.11 329.34 L486.32 330.33 L486.54 331.32 L486.75 332.31 L486.96 333.29 L487.18 334.28 L487.39 335.27 L487.60 336.26 L487.81 337.24 L488.02 338.23 L488.23 339.21 L488.44 340.20 L488.65 341.19 L488.86 342.17 L489.07 343.16 L489.28 344.14 L489.49 345.13 L489.70 346.11 L489.90 347.10 L490.11 348.08 L490.32 349.06 L490.52 350.05 L490.73 351.03 L490.93 352.02 L491.14 353.00 L491.34 353.98 L491.55 354.97 L491.75 355.95 L491.96 356.93 L492.16 357.91 L492.36 358.90 L492.56 359.88 L492.77 360.86 L492.97 361.84 L493.17 362.83 L493.37 363.81 L493.57 364.79 L493.77 365.77 L493.97 366.75 L494.17 367.73 L494.37 368.72 L494.57 369.70 L494.77 370.68 L494.97 371.66 L495.17 372.64 L495.37 373.62 L495.56 374.60 L495.76 375.59 L495.96 376.57 L496.16 377.55 L496.35 378.53 L496.55 379.51 L496.75 380.49 L496.94 381.47 L497.14 382.45 L497.34 383.44 L497.53 384.42 L497.73 385.40 L497.92 386.38 L498.12 387.36 L498.31 388.34 L498.51 389.32 L498.70 390.31 L498.90 391.29 L499.09 392.27 L499.29 393.25 L499.48 394.23 L499.67 395.22 L499.87 396.20 L500.06 397.18 L500.25 398.16 L500.45 399.14 L500.64 400.13 L500.83 401.11 L501.03 402.09 L501.22 403.08 L501.41 404.06 L501.60 405.04 L501.80 406.03 L501.99 407.01 L502.18 407.99 L502.37 408.98 L502.57 409.96 L502.76 410.95 L502.96 411.93 L503.15 412.92 L503.35 413.90 L503.54 414.88 L503.74 415.87 L503.94 416.85 L504.15 417.84 L504.35 418.82 L504.56 419.81 L504.76 420.79 L504.98 421.78 L505.19 422.76 L505.40 423.75 L505.62 424.73 L505.84 425.71 L506.07 426.70 L506.30 427.68 L506.53 428.67 L506.77 429.65 L507.01 430.63 L507.25 431.62 L507.50 432.60 L507.75 433.58 L508.01 434.57 L508.27 435.55 L508.53 436.53 L508.81 437.52 L509.08 438.50 L509.36 439.48 L509.65 440.46 L509.95 441.44 L510.25 442.42 L510.55 443.40 L510.88 444.36 L511.23 445.31 L511.61 446.23 L512.03 447.11 L512.50 447.95 L513.01 448.74 L513.59 449.47 L514.24 450.13 L514.96 450.72 L515.76 451.23 L516.65 451.65 L517.64 451.97 L518.73 452.18" fill="none" stroke="#0072BD" stroke-width="1.95" stroke-dasharray="5.6 1.8 2.4 1.8" stroke-linejoin="round" />
<path d="M310.90 296.30 V462.20 H542.60" fill="none" stroke="#8c8c8c" stroke-width="0.75"/>
<line x1="310.90" y1="462.20" x2="310.90" y2="460.00" stroke="#8c8c8c" stroke-width="0.8"/>
<text x="310.90" y="475.00" font-size="10.1" text-anchor="middle" fill="#444" >0</text>
<line x1="349.52" y1="462.20" x2="349.52" y2="460.00" stroke="#8c8c8c" stroke-width="0.8"/>
<text x="349.52" y="475.00" font-size="10.1" text-anchor="middle" fill="#444" >5</text>
<line x1="388.13" y1="462.20" x2="388.13" y2="460.00" stroke="#8c8c8c" stroke-width="0.8"/>
<text x="388.13" y="475.00" font-size="10.1" text-anchor="middle" fill="#444" >10</text>
<line x1="426.75" y1="462.20" x2="426.75" y2="460.00" stroke="#8c8c8c" stroke-width="0.8"/>
<text x="426.75" y="475.00" font-size="10.1" text-anchor="middle" fill="#444" >15</text>
<line x1="465.37" y1="462.20" x2="465.37" y2="460.00" stroke="#8c8c8c" stroke-width="0.8"/>
<text x="465.37" y="475.00" font-size="10.1" text-anchor="middle" fill="#444" >20</text>
<line x1="503.98" y1="462.20" x2="503.98" y2="460.00" stroke="#8c8c8c" stroke-width="0.8"/>
<text x="503.98" y="475.00" font-size="10.1" text-anchor="middle" fill="#444" >25</text>
<line x1="542.60" y1="462.20" x2="542.60" y2="460.00" stroke="#8c8c8c" stroke-width="0.8"/>
<text x="542.60" y="475.00" font-size="10.1" text-anchor="middle" fill="#444" >30</text>
<line x1="310.90" y1="462.20" x2="313.10" y2="462.20" stroke="#8c8c8c" stroke-width="0.8"/>
<text x="307.50" y="465.33" font-size="10.1" text-anchor="end" fill="#444" >-20</text>
<line x1="310.90" y1="420.73" x2="313.10" y2="420.73" stroke="#8c8c8c" stroke-width="0.8"/>
<text x="307.50" y="423.86" font-size="10.1" text-anchor="end" fill="#444" >-10</text>
<line x1="310.90" y1="379.25" x2="313.10" y2="379.25" stroke="#8c8c8c" stroke-width="0.8"/>
<text x="307.50" y="382.38" font-size="10.1" text-anchor="end" fill="#444" >0</text>
<line x1="310.90" y1="337.77" x2="313.10" y2="337.77" stroke="#8c8c8c" stroke-width="0.8"/>
<text x="307.50" y="340.91" font-size="10.1" text-anchor="end" fill="#444" >10</text>
<line x1="310.90" y1="296.30" x2="313.10" y2="296.30" stroke="#8c8c8c" stroke-width="0.8"/>
<text x="307.50" y="299.43" font-size="10.1" text-anchor="end" fill="#444" >20</text>
<text x="426.30" y="489.00" font-size="12" text-anchor="middle" fill="#444" >Time (s)</text>
<text transform="translate(287.40 380.00) rotate(-90)" font-size="12.5" text-anchor="middle" fill="#444" letter-spacing="0.6"><tspan font-style="italic">a<tspan font-size="8.5" dy="2">y</tspan><tspan dy="-2"> </tspan></tspan>(<tspan font-style="italic">m</tspan>/<tspan font-style="italic">s</tspan><tspan font-size="8.5" dy="-4.5">2</tspan><tspan dy="4.5">)</tspan></text>
<text x="411.00" y="510.00" font-size="10.8" text-anchor="middle" fill="#222" font-weight="bold">(c)</text>
<line x1="30.45" y1="554.20" x2="30.45" y2="694.00" stroke="#e7e7e7" stroke-width="0.6"/>
<line x1="76.80" y1="554.20" x2="76.80" y2="694.00" stroke="#e7e7e7" stroke-width="0.6"/>
<line x1="123.15" y1="554.20" x2="123.15" y2="694.00" stroke="#e7e7e7" stroke-width="0.6"/>
<line x1="169.50" y1="554.20" x2="169.50" y2="694.00" stroke="#e7e7e7" stroke-width="0.6"/>
<line x1="215.85" y1="554.20" x2="215.85" y2="694.00" stroke="#e7e7e7" stroke-width="0.6"/>
<line x1="262.20" y1="554.20" x2="262.20" y2="694.00" stroke="#e7e7e7" stroke-width="0.6"/>
<line x1="30.45" y1="673.98" x2="262.20" y2="673.98" stroke="#e7e7e7" stroke-width="0.7"/>
<line x1="30.45" y1="642.62" x2="262.20" y2="642.62" stroke="#e7e7e7" stroke-width="0.7"/>
<line x1="30.45" y1="618.30" x2="262.20" y2="618.30" stroke="#e7e7e7" stroke-width="0.7"/>
<line x1="30.45" y1="598.43" x2="262.20" y2="598.43" stroke="#e7e7e7" stroke-width="0.7"/>
<line x1="30.45" y1="581.62" x2="262.20" y2="581.62" stroke="#e7e7e7" stroke-width="0.7"/>
<line x1="30.45" y1="567.07" x2="262.20" y2="567.07" stroke="#e7e7e7" stroke-width="0.7"/>
<line x1="30.45" y1="554.23" x2="262.20" y2="554.23" stroke="#e7e7e7" stroke-width="0.7"/>
<line x1="30.45" y1="693.85" x2="262.20" y2="693.85" stroke="#e9e9e9" stroke-width="0.5" stroke-dasharray="0.8 0.8"/>
<line x1="30.45" y1="657.18" x2="262.20" y2="657.18" stroke="#e9e9e9" stroke-width="0.5" stroke-dasharray="0.8 0.8"/>
<line x1="30.45" y1="629.78" x2="262.20" y2="629.78" stroke="#e9e9e9" stroke-width="0.5" stroke-dasharray="0.8 0.8"/>
<line x1="30.45" y1="607.91" x2="262.20" y2="607.91" stroke="#e9e9e9" stroke-width="0.5" stroke-dasharray="0.8 0.8"/>
<line x1="30.45" y1="589.70" x2="262.20" y2="589.70" stroke="#e9e9e9" stroke-width="0.5" stroke-dasharray="0.8 0.8"/>
<line x1="30.45" y1="574.10" x2="262.20" y2="574.10" stroke="#e9e9e9" stroke-width="0.5" stroke-dasharray="0.8 0.8"/>
<line x1="30.45" y1="560.46" x2="262.20" y2="560.46" stroke="#e9e9e9" stroke-width="0.5" stroke-dasharray="0.8 0.8"/>
<clipPath id="cd"><rect x="29.45" y="553.20" width="233.75" height="141.40"/></clipPath>
<g clip-path="url(#cd)">
<path d="M32.77 629.78 L35.09 712.86 L37.40 660.34 L39.72 567.07 L42.04 554.23 L44.35 554.23 L46.67 554.23 L48.99 554.23 L51.31 554.23 L53.62 554.23 L55.94 570.53 L58.26 563.06 L60.58 749.53 L62.89 636.01 L65.21 654.11 L67.53 623.89 L69.85 623.32 L72.17 642.62 L74.48 637.56 L76.80 639.93 L79.12 641.94 L81.44 643.31 L83.75 644.27 L90.70 644.50 L95.34 645.80 L102.29 647.30 L109.25 648.60 L118.52 649.80 L130.10 650.90 L146.32 651.60 L169.50 652.00 L236.71 652.10" fill="none" stroke="#EDB120" stroke-width="1.95" stroke-linejoin="round" />
<path d="M32.77 629.78 L35.09 718.18 L37.40 554.23 L39.72 554.23 L42.04 554.23 L44.35 554.23 L46.67 554.23 L48.99 554.23 L51.31 554.23 L53.62 554.23 L55.94 571.95 L58.26 567.07 L60.58 749.53 L62.89 629.78 L65.21 629.78 L67.53 609.91 L69.85 608.91 L72.17 623.89 L74.48 618.30 L76.80 617.76 L79.12 619.18 L81.44 618.52 L83.75 618.30 L90.70 618.70 L99.98 618.90 L123.15 619.30 L146.32 619.80 L169.50 620.20 L204.26 620.60 L236.71 620.80" fill="none" stroke="#A2142F" stroke-width="1.95" stroke-linejoin="round" />
<path d="M32.77 629.78 L35.09 697.17 L37.40 554.23 L39.72 554.23 L42.04 554.23 L44.35 554.23 L46.67 554.23 L48.99 554.23 L51.31 554.23 L53.62 554.23 L55.94 607.91 L58.26 702.94 L60.58 702.94 L62.89 592.25 L65.21 700.60 L67.53 670.41 L69.85 644.69 L72.17 669.36 L74.48 660.34 L76.80 656.40 L79.12 659.54 L81.44 658.75 L83.75 658.27 L90.70 659.00 L99.98 659.60 L113.88 660.50 L134.74 661.30 L157.91 661.90 L192.67 662.30 L236.71 662.60" fill="none" stroke="#0072BD" stroke-width="1.95" stroke-linejoin="round" />
<path d="M32.77 629.78 H194.99" fill="none" stroke="#0072BD" stroke-width="1.95" stroke-dasharray="5.6 1.8 2.4 1.8" stroke-linejoin="round" />
</g>
<path d="M30.45 554.20 V694.00 H262.20" fill="none" stroke="#8c8c8c" stroke-width="0.75"/>
<line x1="30.45" y1="694.00" x2="30.45" y2="691.80" stroke="#8c8c8c" stroke-width="0.8"/>
<text x="30.45" y="706.80" font-size="10.1" text-anchor="middle" fill="#444" >0</text>
<line x1="76.80" y1="694.00" x2="76.80" y2="691.80" stroke="#8c8c8c" stroke-width="0.8"/>
<text x="76.80" y="706.80" font-size="10.1" text-anchor="middle" fill="#444" >20</text>
<line x1="123.15" y1="694.00" x2="123.15" y2="691.80" stroke="#8c8c8c" stroke-width="0.8"/>
<text x="123.15" y="706.80" font-size="10.1" text-anchor="middle" fill="#444" >40</text>
<line x1="169.50" y1="694.00" x2="169.50" y2="691.80" stroke="#8c8c8c" stroke-width="0.8"/>
<text x="169.50" y="706.80" font-size="10.1" text-anchor="middle" fill="#444" >60</text>
<line x1="215.85" y1="694.00" x2="215.85" y2="691.80" stroke="#8c8c8c" stroke-width="0.8"/>
<text x="215.85" y="706.80" font-size="10.1" text-anchor="middle" fill="#444" >80</text>
<line x1="262.20" y1="694.00" x2="262.20" y2="691.80" stroke="#8c8c8c" stroke-width="0.8"/>
<text x="262.20" y="706.80" font-size="10.1" text-anchor="middle" fill="#444" >100</text>
<line x1="30.45" y1="673.98" x2="32.65" y2="673.98" stroke="#8c8c8c" stroke-width="0.8"/>
<text x="27.05" y="677.11" font-size="10.1" text-anchor="end" fill="#444" >6</text>
<line x1="30.45" y1="642.62" x2="32.65" y2="642.62" stroke="#8c8c8c" stroke-width="0.8"/>
<text x="27.05" y="645.75" font-size="10.1" text-anchor="end" fill="#444" >8</text>
<line x1="30.45" y1="618.30" x2="32.65" y2="618.30" stroke="#8c8c8c" stroke-width="0.8"/>
<text x="27.05" y="621.43" font-size="10.1" text-anchor="end" fill="#444" >10</text>
<line x1="30.45" y1="598.43" x2="32.65" y2="598.43" stroke="#8c8c8c" stroke-width="0.8"/>
<text x="27.05" y="601.56" font-size="10.1" text-anchor="end" fill="#444" >12</text>
<line x1="30.45" y1="581.62" x2="32.65" y2="581.62" stroke="#8c8c8c" stroke-width="0.8"/>
<text x="27.05" y="584.76" font-size="10.1" text-anchor="end" fill="#444" >14</text>
<line x1="30.45" y1="567.07" x2="32.65" y2="567.07" stroke="#8c8c8c" stroke-width="0.8"/>
<text x="27.05" y="570.20" font-size="10.1" text-anchor="end" fill="#444" >16</text>
<line x1="30.45" y1="554.23" x2="32.65" y2="554.23" stroke="#8c8c8c" stroke-width="0.8"/>
<text x="27.05" y="557.36" font-size="10.1" text-anchor="end" fill="#444" >18</text>
<line x1="30.45" y1="693.85" x2="31.65" y2="693.85" stroke="#8c8c8c" stroke-width="0.6"/>
<line x1="30.45" y1="657.18" x2="31.65" y2="657.18" stroke="#8c8c8c" stroke-width="0.6"/>
<line x1="30.45" y1="629.78" x2="31.65" y2="629.78" stroke="#8c8c8c" stroke-width="0.6"/>
<line x1="30.45" y1="607.91" x2="31.65" y2="607.91" stroke="#8c8c8c" stroke-width="0.6"/>
<line x1="30.45" y1="589.70" x2="31.65" y2="589.70" stroke="#8c8c8c" stroke-width="0.6"/>
<line x1="30.45" y1="574.10" x2="31.65" y2="574.10" stroke="#8c8c8c" stroke-width="0.6"/>
<line x1="30.45" y1="560.46" x2="31.65" y2="560.46" stroke="#8c8c8c" stroke-width="0.6"/>
<rect x="176.40" y="557.90" width="79.30" height="58.90" fill="#fff" stroke="#8c8c8c" stroke-width="0.7"/>
<path d="M178.9 563.60 H197.9" fill="none" stroke="#EDB120" stroke-width="1.9" stroke-linejoin="round" />
<text x="199.50" y="566.40" font-size="8.6" text-anchor="start" fill="#2e2e2e" >TS<tspan font-size="6.0" dy="1.6">1</tspan><tspan dy="-1.6"> of C-PDDP</tspan></text>
<path d="M178.9 573.20 H197.9" fill="none" stroke="#A2142F" stroke-width="1.9" stroke-linejoin="round" />
<text x="199.50" y="576.00" font-size="8.6" text-anchor="start" fill="#2e2e2e" >TS<tspan font-size="6.0" dy="1.6">2</tspan><tspan dy="-1.6"> of C-PDDP</tspan></text>
<path d="M178.9 582.80 H197.9" fill="none" stroke="#0072BD" stroke-width="1.9" stroke-linejoin="round" />
<text x="199.50" y="585.60" font-size="8.6" text-anchor="start" fill="#2e2e2e" >TS<tspan font-size="6.0" dy="1.6">3</tspan><tspan dy="-1.6"> of C-PDDP</tspan></text>
<path d="M178.9 592.40 H197.9" fill="none" stroke="#EDB120" stroke-width="1.9" stroke-dasharray="5.6 1.7 3.6 1.7" stroke-linejoin="round" />
<text x="199.50" y="595.20" font-size="8.6" text-anchor="start" fill="#2e2e2e" >TS<tspan font-size="6.0" dy="1.6">1</tspan><tspan dy="-1.6"> of C-DDP</tspan></text>
<path d="M178.9 602.00 H197.9" fill="none" stroke="#A2142F" stroke-width="1.9" stroke-dasharray="5.6 1.7 3.6 1.7" stroke-linejoin="round" />
<text x="199.50" y="604.80" font-size="8.6" text-anchor="start" fill="#2e2e2e" >TS<tspan font-size="6.0" dy="1.6">2</tspan><tspan dy="-1.6"> of C-DDP</tspan></text>
<path d="M178.9 611.60 H197.9" fill="none" stroke="#0072BD" stroke-width="1.9" stroke-dasharray="5.6 1.7 3.6 1.7" stroke-linejoin="round" />
<text x="199.50" y="614.40" font-size="8.6" text-anchor="start" fill="#2e2e2e" >TS<tspan font-size="6.0" dy="1.6">3</tspan><tspan dy="-1.6"> of C-DDP</tspan></text>
<text x="146.50" y="720.00" font-size="12" text-anchor="middle" fill="#444" letter-spacing="0.18">Iterations</text>
<text transform="translate(10.40 624.50) rotate(-90)" font-size="12.3" text-anchor="middle" fill="#444" letter-spacing="0.5"><tspan font-style="italic">θ<tspan font-size="8.5" dy="2">j</tspan><tspan dy="-2"> </tspan></tspan>(<tspan font-style="italic">s</tspan>)</text>
<text x="134.00" y="747.30" font-size="10.8" text-anchor="middle" fill="#222" font-weight="bold">(d)</text>
<line x1="311.20" y1="555.40" x2="311.20" y2="692.20" stroke="#e7e7e7" stroke-width="0.6"/>
<line x1="357.04" y1="555.40" x2="357.04" y2="692.20" stroke="#e7e7e7" stroke-width="0.6"/>
<line x1="402.88" y1="555.40" x2="402.88" y2="692.20" stroke="#e7e7e7" stroke-width="0.6"/>
<line x1="448.72" y1="555.40" x2="448.72" y2="692.20" stroke="#e7e7e7" stroke-width="0.6"/>
<line x1="494.56" y1="555.40" x2="494.56" y2="692.20" stroke="#e7e7e7" stroke-width="0.6"/>
<line x1="540.40" y1="555.40" x2="540.40" y2="692.20" stroke="#e7e7e7" stroke-width="0.6"/>
<line x1="311.20" y1="687.00" x2="540.40" y2="687.00" stroke="#e7e7e7" stroke-width="0.7"/>
<line x1="311.20" y1="660.68" x2="540.40" y2="660.68" stroke="#e7e7e7" stroke-width="0.7"/>
<line x1="311.20" y1="634.36" x2="540.40" y2="634.36" stroke="#e7e7e7" stroke-width="0.7"/>
<line x1="311.20" y1="608.04" x2="540.40" y2="608.04" stroke="#e7e7e7" stroke-width="0.7"/>
<line x1="311.20" y1="581.72" x2="540.40" y2="581.72" stroke="#e7e7e7" stroke-width="0.7"/>
<line x1="311.20" y1="555.40" x2="540.40" y2="555.40" stroke="#e7e7e7" stroke-width="0.7"/>
<clipPath id="ce"><rect x="310.20" y="554.40" width="231.20" height="138.60"/></clipPath>
<g clip-path="url(#ce)">
<path d="M313.49 567.80 L315.78 615.50 L318.08 598.40 L320.37 598.40 L322.66 598.80 L324.95 600.90 L327.24 594.50 L329.54 598.40 L331.83 607.90 L334.12 601.50 L336.41 607.30 L338.70 612.40 L341.00 616.00 L343.29 606.00 L345.58 632.00 L347.87 648.00 L350.16 662.80 L352.46 657.70 L354.75 672.00 L357.04 682.00 L359.33 687.00 L361.62 689.50 L363.92 690.60 L368.50 691.30 L375.38 691.70 L515.19 691.80" fill="none" stroke="#0072BD" stroke-width="1.95" stroke-linejoin="round" />
<path d="M313.49 567.80 L315.78 612.50 L318.08 620.20 L320.37 635.50 L322.66 652.00 L324.95 667.30 L327.24 676.20 L329.54 680.60 L331.83 682.00 L334.12 682.50 L338.70 682.80 L473.93 682.80" fill="none" stroke="#0072BD" stroke-width="1.95" stroke-dasharray="5.6 1.8 2.4 1.8" stroke-linejoin="round" />
</g>
<path d="M311.20 555.40 V692.20 H540.40" fill="none" stroke="#8c8c8c" stroke-width="0.75"/>
<line x1="311.20" y1="692.20" x2="311.20" y2="690.00" stroke="#8c8c8c" stroke-width="0.8"/>
<text x="311.20" y="705.00" font-size="10.1" text-anchor="middle" fill="#444" >0</text>
<line x1="357.04" y1="692.20" x2="357.04" y2="690.00" stroke="#8c8c8c" stroke-width="0.8"/>
<text x="357.04" y="705.00" font-size="10.1" text-anchor="middle" fill="#444" >20</text>
<line x1="402.88" y1="692.20" x2="402.88" y2="690.00" stroke="#8c8c8c" stroke-width="0.8"/>
<text x="402.88" y="705.00" font-size="10.1" text-anchor="middle" fill="#444" >40</text>
<line x1="448.72" y1="692.20" x2="448.72" y2="690.00" stroke="#8c8c8c" stroke-width="0.8"/>
<text x="448.72" y="705.00" font-size="10.1" text-anchor="middle" fill="#444" >60</text>
<line x1="494.56" y1="692.20" x2="494.56" y2="690.00" stroke="#8c8c8c" stroke-width="0.8"/>
<text x="494.56" y="705.00" font-size="10.1" text-anchor="middle" fill="#444" >80</text>
<line x1="540.40" y1="692.20" x2="540.40" y2="690.00" stroke="#8c8c8c" stroke-width="0.8"/>
<text x="540.40" y="705.00" font-size="10.1" text-anchor="middle" fill="#444" >100</text>
<line x1="311.20" y1="687.00" x2="313.40" y2="687.00" stroke="#8c8c8c" stroke-width="0.8"/>
<line x1="311.20" y1="660.68" x2="313.40" y2="660.68" stroke="#8c8c8c" stroke-width="0.8"/>
<line x1="311.20" y1="634.36" x2="313.40" y2="634.36" stroke="#8c8c8c" stroke-width="0.8"/>
<line x1="311.20" y1="608.04" x2="313.40" y2="608.04" stroke="#8c8c8c" stroke-width="0.8"/>
<line x1="311.20" y1="581.72" x2="313.40" y2="581.72" stroke="#8c8c8c" stroke-width="0.8"/>
<line x1="311.20" y1="555.40" x2="313.40" y2="555.40" stroke="#8c8c8c" stroke-width="0.8"/>
<text x="308.20" y="559.20" font-size="10.6" text-anchor="end" fill="#444" >10<tspan font-size="7.5" dy="-4.4">5</tspan></text>
<text x="308.20" y="690.80" font-size="10.6" text-anchor="end" fill="#444" >10<tspan font-size="7.5" dy="-4.4">0</tspan></text>
<rect x="469.60" y="560.80" width="65.00" height="26.60" fill="#fff" stroke="#8c8c8c" stroke-width="0.7"/>
<path d="M472 567.8 H490.5" fill="none" stroke="#0072BD" stroke-width="1.95" stroke-linejoin="round" />
<path d="M472 579.5 H490.5" fill="none" stroke="#0072BD" stroke-width="1.95" stroke-dasharray="6.4 1.6 2.8 1.6" stroke-linejoin="round" />
<text x="492.40" y="571.60" font-size="11.4" text-anchor="start" fill="#2e2e2e" >C-PDDP</text>
<text x="492.40" y="583.40" font-size="11.4" text-anchor="start" fill="#2e2e2e" >C-DDP</text>
<text x="425.50" y="719.00" font-size="12" text-anchor="middle" fill="#444" letter-spacing="0.18">Iterations</text>
<text transform="translate(287.30 622.20) rotate(-90)" font-size="12.5" text-anchor="middle" fill="#444" letter-spacing="0.45" word-spacing="1.5">Cost Function <tspan font-style="italic">J</tspan></text>
<text x="411.20" y="747.60" font-size="10.8" text-anchor="middle" fill="#222" font-weight="bold">(e)</text>
</svg>
</body></html>
